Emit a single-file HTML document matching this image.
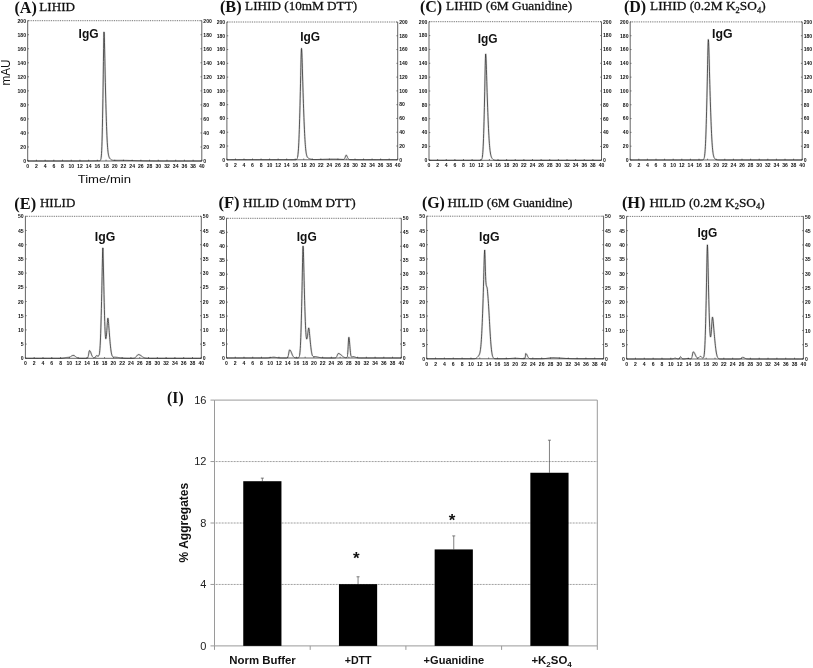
<!DOCTYPE html>
<html lang="en"><head><meta charset="utf-8"><title>Figure</title>
<style>
html,body{margin:0;padding:0;background:#fff;}
body{width:813px;height:668px;overflow:hidden;}
svg{display:block;}
</style></head><body>
<svg width="813" height="668" viewBox="0 0 813 668">
<rect width="813" height="668" fill="#fff"/>
<g>
<path d="M27.7 20.7V161H201.8V20.7" fill="none" stroke="#484848" stroke-width="0.85"/>
<path d="M27.7 20.7H201.8" fill="none" stroke="#666" stroke-width="1" stroke-dasharray="0.9 0.9"/>
<path d="M27.7 161h1.3M201.8 161h-1.3M27.7 146.97h1.3M201.8 146.97h-1.3M27.7 132.94h1.3M201.8 132.94h-1.3M27.7 118.91h1.3M201.8 118.91h-1.3M27.7 104.88h1.3M201.8 104.88h-1.3M27.7 90.85h1.3M201.8 90.85h-1.3M27.7 76.82h1.3M201.8 76.82h-1.3M27.7 62.79h1.3M201.8 62.79h-1.3M27.7 48.76h1.3M201.8 48.76h-1.3M27.7 34.73h1.3M201.8 34.73h-1.3M27.7 20.7h1.3M201.8 20.7h-1.3M27.7 161v-1.3M36.41 161v-1.3M45.11 161v-1.3M53.82 161v-1.3M62.52 161v-1.3M71.23 161v-1.3M79.93 161v-1.3M88.64 161v-1.3M97.34 161v-1.3M106.05 161v-1.3M114.75 161v-1.3M123.46 161v-1.3M132.16 161v-1.3M140.87 161v-1.3M149.57 161v-1.3M158.28 161v-1.3M166.98 161v-1.3M175.69 161v-1.3M184.39 161v-1.3M193.1 161v-1.3M201.8 161v-1.3" stroke="#484848" stroke-width="0.7" fill="none"/>
<g font-family='"Liberation Sans", sans-serif' font-size="5.1" font-weight="bold" fill="#111">
<text x="26" y="162.8" text-anchor="end">0</text>
<text x="203.3" y="162.8">0</text>
<text x="26" y="148.77" text-anchor="end">20</text>
<text x="203.3" y="148.77">20</text>
<text x="26" y="134.74" text-anchor="end">40</text>
<text x="203.3" y="134.74">40</text>
<text x="26" y="120.71" text-anchor="end">60</text>
<text x="203.3" y="120.71">60</text>
<text x="26" y="106.68" text-anchor="end">80</text>
<text x="203.3" y="106.68">80</text>
<text x="26" y="92.65" text-anchor="end">100</text>
<text x="203.3" y="92.65">100</text>
<text x="26" y="78.62" text-anchor="end">120</text>
<text x="203.3" y="78.62">120</text>
<text x="26" y="64.59" text-anchor="end">140</text>
<text x="203.3" y="64.59">140</text>
<text x="26" y="50.56" text-anchor="end">160</text>
<text x="203.3" y="50.56">160</text>
<text x="26" y="36.53" text-anchor="end">180</text>
<text x="203.3" y="36.53">180</text>
<text x="26" y="22.5" text-anchor="end">200</text>
<text x="203.3" y="22.5">200</text>
<text x="27.7" y="167.8" text-anchor="middle">0</text>
<text x="36.41" y="167.8" text-anchor="middle">2</text>
<text x="45.11" y="167.8" text-anchor="middle">4</text>
<text x="53.82" y="167.8" text-anchor="middle">6</text>
<text x="62.52" y="167.8" text-anchor="middle">8</text>
<text x="71.23" y="167.8" text-anchor="middle">10</text>
<text x="79.93" y="167.8" text-anchor="middle">12</text>
<text x="88.64" y="167.8" text-anchor="middle">14</text>
<text x="97.34" y="167.8" text-anchor="middle">16</text>
<text x="106.05" y="167.8" text-anchor="middle">18</text>
<text x="114.75" y="167.8" text-anchor="middle">20</text>
<text x="123.46" y="167.8" text-anchor="middle">22</text>
<text x="132.16" y="167.8" text-anchor="middle">24</text>
<text x="140.87" y="167.8" text-anchor="middle">26</text>
<text x="149.57" y="167.8" text-anchor="middle">28</text>
<text x="158.28" y="167.8" text-anchor="middle">30</text>
<text x="166.98" y="167.8" text-anchor="middle">32</text>
<text x="175.69" y="167.8" text-anchor="middle">34</text>
<text x="184.39" y="167.8" text-anchor="middle">36</text>
<text x="193.1" y="167.8" text-anchor="middle">38</text>
<text x="201.8" y="167.8" text-anchor="middle">40</text>
</g>
<path d="M101 158.69L101.17 157.55L101.34 155.92L101.52 153.63L101.69 150.53L101.87 146.46L102.04 141.29L102.21 134.93L102.39 127.36L102.56 118.68L102.74 109.03L102.91 98.54L103.09 87.21L103.26 74.9L103.43 61.63L103.61 48.38L103.78 37.49L103.96 31.98L104.13 32.52L104.3 36.17L104.48 42.23L104.65 49.87L104.83 58.26L105 66.75L105.17 74.95L105.35 82.71L105.52 90.04L105.7 96.99L105.87 103.59L106.04 109.87L106.22 115.8L106.39 121.34L106.57 126.46L106.74 131.12L106.92 135.3L107.09 139.01L107.26 142.27L107.44 145.08L107.61 147.49L107.79 149.53L107.96 151.23L108.13 152.65L108.31 153.82L108.48 154.78L108.66 155.58L108.83 156.23L109 156.78L109.18 157.23L109.35 157.61L109.53 157.94L109.7 158.22L109.88 158.47L110.05 158.69" fill="none" stroke="#000" stroke-opacity="0.11" stroke-width="2.1" stroke-linejoin="round"/>
<path d="M27.7 161L27.87 161L28.74 161L29.62 161L30.49 161L31.36 161L32.23 161L33.1 161L33.97 161L34.84 161L35.71 161L36.58 161L37.45 161L38.32 161L39.19 161L40.06 161L40.93 161L41.8 161L42.67 161L43.54 161L44.41 161L45.28 161L46.15 161L47.03 161L47.9 161L48.77 161L49.64 161L50.51 161L51.38 161L52.25 161L53.12 161L53.99 161L54.86 161L55.73 161L56.6 161L57.47 161L58.34 161L59.21 161L60.08 161L60.95 161L61.82 161L62.69 161L63.56 161L64.44 161L65.31 161L66.18 161L67.05 161L67.92 161L68.79 161L69.66 161L70.53 161L71.4 161L72.27 161L73.14 161L74.01 161L74.88 161L75.75 161L76.62 161L77.49 161L78.36 160.99L79.23 160.99L80.1 160.99L80.97 160.99L81.85 160.99L82.72 160.99L83.59 160.98L84.46 160.98L85.33 160.98L86.2 160.97L87.07 160.97L87.94 160.96L88.81 160.95L89.68 160.94L90.55 160.94L91.42 160.93L92.29 160.91L93.16 160.9L94.03 160.89L94.9 160.87L95.77 160.86L96.64 160.84L97.51 160.82L98.38 160.8L98.56 160.8L99.43 160.76L99.6 160.75L100.47 160.28L100.65 159.96L100.82 159.46L101 158.69L101.17 157.55L101.34 155.92L101.52 153.63L101.69 150.53L101.87 146.46L102.04 141.29L102.21 134.93L102.39 127.36L102.56 118.68L102.74 109.03L102.91 98.54L103.09 87.21L103.26 74.9L103.43 61.63L103.61 48.38L103.78 37.49L103.96 31.98L104.13 32.52L104.3 36.17L104.48 42.23L104.65 49.87L104.83 58.26L105 66.75L105.17 74.95L105.35 82.71L105.52 90.04L105.7 96.99L105.87 103.59L106.04 109.87L106.22 115.8L106.39 121.34L106.57 126.46L106.74 131.12L106.92 135.3L107.09 139.01L107.26 142.27L107.44 145.08L107.61 147.49L107.79 149.53L107.96 151.23L108.13 152.65L108.31 153.82L108.48 154.78L108.66 155.58L108.83 156.23L109 156.78L109.18 157.23L109.35 157.61L109.53 157.94L109.7 158.22L109.88 158.47L110.05 158.69L110.22 158.89L110.4 159.06L110.57 159.22L110.75 159.36L110.92 159.49L111.09 159.61L111.27 159.71L111.44 159.81L111.62 159.89L111.79 159.96L111.96 160.02L112.14 160.08L112.31 160.13L112.49 160.17L112.66 160.2L112.83 160.23L113.01 160.25L113.18 160.27L114.05 160.32L114.23 160.32L115.1 160.32L115.97 160.32L116.84 160.31L117.71 160.3L118.58 160.3L119.45 160.3L120.32 160.3L121.19 160.31L122.06 160.31L122.93 160.32L123.8 160.33L124.67 160.34L125.54 160.36L126.41 160.37L127.29 160.39L128.16 160.41L129.03 160.43L129.2 160.44L130.07 160.46L130.24 160.46L131.12 160.49L131.29 160.49L132.16 160.51L132.33 160.52L133.2 160.54L133.38 160.55L134.25 160.57L134.42 160.58L135.29 160.6L135.47 160.61L136.34 160.63L136.51 160.63L137.38 160.66L137.56 160.66L138.43 160.69L138.6 160.69L139.47 160.71L139.65 160.72L140.52 160.74L140.69 160.74L141.56 160.76L141.74 160.77L142.61 160.79L143.48 160.8L144.35 160.82L145.22 160.84L146.09 160.85L146.96 160.87L147.83 160.88L148.7 160.89L149.57 160.91L150.44 160.92L151.31 160.92L152.18 160.93L153.05 160.94L153.92 160.95L154.79 160.95L155.66 160.96L156.53 160.97L157.4 160.97L158.27 160.97L159.15 160.98L160.02 160.98L160.89 160.98L161.76 160.99L162.63 160.99L163.5 160.99L164.37 160.99L165.24 160.99L166.11 160.99L166.98 160.99L167.85 161L168.72 161L169.59 161L170.46 161L171.33 161L172.2 161L173.07 161L173.94 161L174.81 161L175.68 161L176.56 161L177.43 161L178.3 161L179.17 161L180.04 161L180.91 161L181.78 161L182.65 161L183.52 161L184.39 161L185.26 161L186.13 161L187 161L187.87 161L188.74 161L189.61 161L190.48 161L191.35 161L192.22 161L193.09 161L193.97 161L194.84 161L195.71 161L196.58 161L197.45 161L198.32 161L199.19 161L200.06 161L200.93 161L201.8 161" fill="none" stroke="#262626" stroke-width="0.75" stroke-linejoin="round"/>
<text x="14.4" y="12.5" font-family='"Liberation Serif", serif' font-size="16" font-weight="bold" fill="#111" textLength="22.4" lengthAdjust="spacingAndGlyphs">(A)</text>
<text x="39.3" y="11" font-family='"Liberation Serif", serif' font-size="13.4" fill="#111" stroke="#111" stroke-width="0.28" textLength="35.7" lengthAdjust="spacingAndGlyphs">LIHID</text>
<text x="78.6" y="38.1" font-family='"Liberation Sans", sans-serif' font-size="13.2" font-weight="bold" fill="#111" textLength="20" lengthAdjust="spacingAndGlyphs">IgG</text>
</g>
<g>
<path d="M226.9 22V159.8H397.7V22" fill="none" stroke="#484848" stroke-width="0.85"/>
<path d="M226.9 22H397.7" fill="none" stroke="#666" stroke-width="1" stroke-dasharray="0.9 0.9"/>
<path d="M226.9 159.8h1.3M397.7 159.8h-1.3M226.9 146.02h1.3M397.7 146.02h-1.3M226.9 132.24h1.3M397.7 132.24h-1.3M226.9 118.46h1.3M397.7 118.46h-1.3M226.9 104.68h1.3M397.7 104.68h-1.3M226.9 90.9h1.3M397.7 90.9h-1.3M226.9 77.12h1.3M397.7 77.12h-1.3M226.9 63.34h1.3M397.7 63.34h-1.3M226.9 49.56h1.3M397.7 49.56h-1.3M226.9 35.78h1.3M397.7 35.78h-1.3M226.9 22h1.3M397.7 22h-1.3M226.9 159.8v-1.3M235.44 159.8v-1.3M243.98 159.8v-1.3M252.52 159.8v-1.3M261.06 159.8v-1.3M269.6 159.8v-1.3M278.14 159.8v-1.3M286.68 159.8v-1.3M295.22 159.8v-1.3M303.76 159.8v-1.3M312.3 159.8v-1.3M320.84 159.8v-1.3M329.38 159.8v-1.3M337.92 159.8v-1.3M346.46 159.8v-1.3M355 159.8v-1.3M363.54 159.8v-1.3M372.08 159.8v-1.3M380.62 159.8v-1.3M389.16 159.8v-1.3M397.7 159.8v-1.3" stroke="#484848" stroke-width="0.7" fill="none"/>
<g font-family='"Liberation Sans", sans-serif' font-size="5.1" font-weight="bold" fill="#111">
<text x="225.2" y="161.6" text-anchor="end">0</text>
<text x="399.2" y="161.6">0</text>
<text x="225.2" y="147.82" text-anchor="end">20</text>
<text x="399.2" y="147.82">20</text>
<text x="225.2" y="134.04" text-anchor="end">40</text>
<text x="399.2" y="134.04">40</text>
<text x="225.2" y="120.26" text-anchor="end">60</text>
<text x="399.2" y="120.26">60</text>
<text x="225.2" y="106.48" text-anchor="end">80</text>
<text x="399.2" y="106.48">80</text>
<text x="225.2" y="92.7" text-anchor="end">100</text>
<text x="399.2" y="92.7">100</text>
<text x="225.2" y="78.92" text-anchor="end">120</text>
<text x="399.2" y="78.92">120</text>
<text x="225.2" y="65.14" text-anchor="end">140</text>
<text x="399.2" y="65.14">140</text>
<text x="225.2" y="51.36" text-anchor="end">160</text>
<text x="399.2" y="51.36">160</text>
<text x="225.2" y="37.58" text-anchor="end">180</text>
<text x="399.2" y="37.58">180</text>
<text x="225.2" y="23.8" text-anchor="end">200</text>
<text x="399.2" y="23.8">200</text>
<text x="226.9" y="166.6" text-anchor="middle">0</text>
<text x="235.44" y="166.6" text-anchor="middle">2</text>
<text x="243.98" y="166.6" text-anchor="middle">4</text>
<text x="252.52" y="166.6" text-anchor="middle">6</text>
<text x="261.06" y="166.6" text-anchor="middle">8</text>
<text x="269.6" y="166.6" text-anchor="middle">10</text>
<text x="278.14" y="166.6" text-anchor="middle">12</text>
<text x="286.68" y="166.6" text-anchor="middle">14</text>
<text x="295.22" y="166.6" text-anchor="middle">16</text>
<text x="303.76" y="166.6" text-anchor="middle">18</text>
<text x="312.3" y="166.6" text-anchor="middle">20</text>
<text x="320.84" y="166.6" text-anchor="middle">22</text>
<text x="329.38" y="166.6" text-anchor="middle">24</text>
<text x="337.92" y="166.6" text-anchor="middle">26</text>
<text x="346.46" y="166.6" text-anchor="middle">28</text>
<text x="355" y="166.6" text-anchor="middle">30</text>
<text x="363.54" y="166.6" text-anchor="middle">32</text>
<text x="372.08" y="166.6" text-anchor="middle">34</text>
<text x="380.62" y="166.6" text-anchor="middle">36</text>
<text x="389.16" y="166.6" text-anchor="middle">38</text>
<text x="397.7" y="166.6" text-anchor="middle">40</text>
</g>
<path d="M297.61 156.92L297.78 155.93L297.95 154.67L298.12 153.1L298.29 151.15L298.47 148.78L298.64 145.95L298.81 142.62L298.98 138.77L299.15 134.39L299.32 129.5L299.49 124.13L299.66 118.33L299.83 112.16L300 105.63L300.17 98.75L300.34 91.45L300.51 83.69L300.69 75.54L300.86 67.28L301.03 59.55L301.2 53.23L301.37 49.3L301.54 48.42L301.71 49.79L301.88 52.87L302.05 57.35L302.22 62.81L302.39 68.81L302.56 75.01L302.74 81.15L302.91 87.08L303.08 92.74L303.25 98.14L303.42 103.31L303.59 108.26L303.76 113L303.93 117.55L304.1 121.87L304.27 125.96L304.44 129.79L304.61 133.33L304.78 136.59L304.96 139.55L305.13 142.22L305.3 144.6L305.47 146.7L305.64 148.54L305.81 150.14L305.98 151.51L306.15 152.69L306.32 153.7L306.49 154.54L306.66 155.25L306.83 155.84L307.01 156.32L307.18 156.72L307.35 157.05L307.52 157.33L307.69 157.55M345.09 157.53L345.26 157.03L345.44 156.51L345.61 156.03L345.78 155.63L345.95 155.35L346.12 155.23L346.29 155.25L346.46 155.37L346.63 155.56L346.8 155.83L346.97 156.15L347.14 156.5L347.31 156.88L347.48 157.26" fill="none" stroke="#000" stroke-opacity="0.11" stroke-width="2.1" stroke-linejoin="round"/>
<path d="M226.9 159.8L227.07 159.8L227.92 159.8L228.78 159.8L229.63 159.8L230.49 159.8L231.34 159.8L232.19 159.8L233.05 159.8L233.9 159.8L234.76 159.8L235.61 159.8L236.46 159.8L237.32 159.8L238.17 159.8L239.03 159.8L239.88 159.8L240.73 159.8L241.59 159.8L242.44 159.8L243.3 159.8L244.15 159.8L245 159.8L245.86 159.8L246.71 159.8L247.57 159.8L248.42 159.8L249.27 159.8L250.13 159.8L250.98 159.8L251.84 159.8L252.69 159.8L253.54 159.8L254.4 159.8L255.25 159.8L256.11 159.8L256.96 159.8L257.81 159.8L258.67 159.8L259.52 159.8L260.38 159.8L261.23 159.8L262.08 159.8L262.94 159.8L263.79 159.8L264.65 159.8L265.5 159.8L266.35 159.8L267.21 159.8L268.06 159.8L268.92 159.8L269.77 159.8L270.62 159.8L271.48 159.8L272.33 159.8L273.19 159.8L274.04 159.8L274.89 159.8L275.75 159.8L276.6 159.8L277.46 159.8L278.31 159.8L279.16 159.8L280.02 159.8L280.87 159.8L281.73 159.8L282.58 159.8L283.43 159.8L284.29 159.8L285.14 159.8L286 159.8L286.85 159.8L287.7 159.8L288.56 159.8L289.41 159.8L290.27 159.8L291.12 159.8L291.97 159.8L292.83 159.8L293.68 159.79L294.54 159.79L295.39 159.77L296.24 159.62L296.42 159.54L296.59 159.42L296.76 159.25L296.93 159.02L297.1 158.7L297.27 158.26L297.44 157.68L297.61 156.92L297.78 155.93L297.95 154.67L298.12 153.1L298.29 151.15L298.47 148.78L298.64 145.95L298.81 142.62L298.98 138.77L299.15 134.39L299.32 129.5L299.49 124.13L299.66 118.33L299.83 112.16L300 105.63L300.17 98.75L300.34 91.45L300.51 83.69L300.69 75.54L300.86 67.28L301.03 59.55L301.2 53.23L301.37 49.3L301.54 48.42L301.71 49.79L301.88 52.87L302.05 57.35L302.22 62.81L302.39 68.81L302.56 75.01L302.74 81.15L302.91 87.08L303.08 92.74L303.25 98.14L303.42 103.31L303.59 108.26L303.76 113L303.93 117.55L304.1 121.87L304.27 125.96L304.44 129.79L304.61 133.33L304.78 136.59L304.96 139.55L305.13 142.22L305.3 144.6L305.47 146.7L305.64 148.54L305.81 150.14L305.98 151.51L306.15 152.69L306.32 153.7L306.49 154.54L306.66 155.25L306.83 155.84L307.01 156.32L307.18 156.72L307.35 157.05L307.52 157.33L307.69 157.55L307.86 157.74L308.03 157.9L308.2 158.03L308.37 158.15L308.54 158.25L308.71 158.34L308.88 158.43L309.05 158.5L309.23 158.58L309.4 158.64L309.57 158.71L309.74 158.77L309.91 158.83L310.08 158.89L310.25 158.94L310.42 158.99L310.59 159.04L310.76 159.09L310.93 159.13L311.1 159.17L311.28 159.21L311.45 159.25L311.62 159.28L311.79 159.32L311.96 159.34L312.13 159.37L312.3 159.4L312.47 159.42L312.64 159.44L313.5 159.5L313.67 159.51L314.52 159.53L314.69 159.54L315.55 159.53L316.4 159.52L317.25 159.49L317.42 159.49L318.28 159.46L318.45 159.46L319.3 159.43L319.47 159.43L320.33 159.4L320.5 159.39L321.35 159.37L321.52 159.36L322.38 159.33L322.55 159.33L323.4 159.3L323.57 159.29L324.43 159.27L324.6 159.26L325.45 159.24L325.62 159.23L326.48 159.21L326.65 159.21L327.5 159.19L327.67 159.18L328.53 159.16L329.38 159.15L330.23 159.14L331.09 159.12L331.94 159.12L332.8 159.11L333.65 159.11L334.5 159.11L335.36 159.12L336.21 159.14L337.07 159.16L337.24 159.17L338.09 159.2L338.26 159.2L339.12 159.24L339.29 159.25L340.14 159.28L340.31 159.29L341.17 159.33L341.34 159.34L342.19 159.38L342.36 159.39L343.21 159.42L343.39 159.42L344.24 159.14L344.41 158.96L344.58 158.71L344.75 158.39L344.92 157.99L345.09 157.53L345.26 157.03L345.44 156.51L345.61 156.03L345.78 155.63L345.95 155.35L346.12 155.23L346.29 155.25L346.46 155.37L346.63 155.56L346.8 155.83L346.97 156.15L347.14 156.5L347.31 156.88L347.48 157.26L347.66 157.63L347.83 157.98L348 158.3L348.17 158.58L348.34 158.82L348.51 159.02L348.68 159.18L348.85 159.31L349.02 159.42L349.19 159.49L349.36 159.55L349.53 159.6L349.71 159.63L349.88 159.65L350.05 159.67L350.9 159.71L351.07 159.71L351.93 159.73L352.78 159.74L353.63 159.76L354.49 159.76L355.34 159.77L356.2 159.78L357.05 159.78L357.9 159.79L358.76 159.79L359.61 159.79L360.47 159.8L361.32 159.8L362.17 159.8L363.03 159.8L363.88 159.8L364.74 159.8L365.59 159.8L366.44 159.8L367.3 159.8L368.15 159.8L369.01 159.8L369.86 159.8L370.71 159.8L371.57 159.8L372.42 159.8L373.28 159.8L374.13 159.8L374.98 159.8L375.84 159.8L376.69 159.8L377.55 159.8L378.4 159.8L379.25 159.8L380.11 159.8L380.96 159.8L381.82 159.8L382.67 159.8L383.52 159.8L384.38 159.8L385.23 159.8L386.09 159.8L386.94 159.8L387.79 159.8L388.65 159.8L389.5 159.8L390.36 159.8L391.21 159.8L392.06 159.8L392.92 159.8L393.77 159.8L394.63 159.8L395.48 159.8L396.33 159.8L397.19 159.8" fill="none" stroke="#262626" stroke-width="0.75" stroke-linejoin="round"/>
<text x="219.9" y="11.9" font-family='"Liberation Serif", serif' font-size="16" font-weight="bold" fill="#111" textLength="21.7" lengthAdjust="spacingAndGlyphs">(B)</text>
<text x="245.1" y="10.4" font-family='"Liberation Serif", serif' font-size="13.4" fill="#111" stroke="#111" stroke-width="0.28" textLength="112" lengthAdjust="spacingAndGlyphs">LIHID (10mM DTT)</text>
<text x="300.2" y="40.7" font-family='"Liberation Sans", sans-serif' font-size="13.2" font-weight="bold" fill="#111" textLength="19.9" lengthAdjust="spacingAndGlyphs">IgG</text>
</g>
<g>
<path d="M429 21.7V160.3H601.5V21.7" fill="none" stroke="#484848" stroke-width="0.85"/>
<path d="M429 21.7H601.5" fill="none" stroke="#666" stroke-width="1" stroke-dasharray="0.9 0.9"/>
<path d="M429 160.3h1.3M601.5 160.3h-1.3M429 146.44h1.3M601.5 146.44h-1.3M429 132.58h1.3M601.5 132.58h-1.3M429 118.72h1.3M601.5 118.72h-1.3M429 104.86h1.3M601.5 104.86h-1.3M429 91h1.3M601.5 91h-1.3M429 77.14h1.3M601.5 77.14h-1.3M429 63.28h1.3M601.5 63.28h-1.3M429 49.42h1.3M601.5 49.42h-1.3M429 35.56h1.3M601.5 35.56h-1.3M429 21.7h1.3M601.5 21.7h-1.3M429 160.3v-1.3M437.62 160.3v-1.3M446.25 160.3v-1.3M454.88 160.3v-1.3M463.5 160.3v-1.3M472.12 160.3v-1.3M480.75 160.3v-1.3M489.38 160.3v-1.3M498 160.3v-1.3M506.62 160.3v-1.3M515.25 160.3v-1.3M523.88 160.3v-1.3M532.5 160.3v-1.3M541.12 160.3v-1.3M549.75 160.3v-1.3M558.38 160.3v-1.3M567 160.3v-1.3M575.62 160.3v-1.3M584.25 160.3v-1.3M592.88 160.3v-1.3M601.5 160.3v-1.3" stroke="#484848" stroke-width="0.7" fill="none"/>
<g font-family='"Liberation Sans", sans-serif' font-size="5.1" font-weight="bold" fill="#111">
<text x="427.3" y="162.1" text-anchor="end">0</text>
<text x="603" y="162.1">0</text>
<text x="427.3" y="148.24" text-anchor="end">20</text>
<text x="603" y="148.24">20</text>
<text x="427.3" y="134.38" text-anchor="end">40</text>
<text x="603" y="134.38">40</text>
<text x="427.3" y="120.52" text-anchor="end">60</text>
<text x="603" y="120.52">60</text>
<text x="427.3" y="106.66" text-anchor="end">80</text>
<text x="603" y="106.66">80</text>
<text x="427.3" y="92.8" text-anchor="end">100</text>
<text x="603" y="92.8">100</text>
<text x="427.3" y="78.94" text-anchor="end">120</text>
<text x="603" y="78.94">120</text>
<text x="427.3" y="65.08" text-anchor="end">140</text>
<text x="603" y="65.08">140</text>
<text x="427.3" y="51.22" text-anchor="end">160</text>
<text x="603" y="51.22">160</text>
<text x="427.3" y="37.36" text-anchor="end">180</text>
<text x="603" y="37.36">180</text>
<text x="427.3" y="23.5" text-anchor="end">200</text>
<text x="603" y="23.5">200</text>
<text x="429" y="167.1" text-anchor="middle">0</text>
<text x="437.62" y="167.1" text-anchor="middle">2</text>
<text x="446.25" y="167.1" text-anchor="middle">4</text>
<text x="454.88" y="167.1" text-anchor="middle">6</text>
<text x="463.5" y="167.1" text-anchor="middle">8</text>
<text x="472.12" y="167.1" text-anchor="middle">10</text>
<text x="480.75" y="167.1" text-anchor="middle">12</text>
<text x="489.38" y="167.1" text-anchor="middle">14</text>
<text x="498" y="167.1" text-anchor="middle">16</text>
<text x="506.62" y="167.1" text-anchor="middle">18</text>
<text x="515.25" y="167.1" text-anchor="middle">20</text>
<text x="523.88" y="167.1" text-anchor="middle">22</text>
<text x="532.5" y="167.1" text-anchor="middle">24</text>
<text x="541.12" y="167.1" text-anchor="middle">26</text>
<text x="549.75" y="167.1" text-anchor="middle">28</text>
<text x="558.38" y="167.1" text-anchor="middle">30</text>
<text x="567" y="167.1" text-anchor="middle">32</text>
<text x="575.62" y="167.1" text-anchor="middle">34</text>
<text x="584.25" y="167.1" text-anchor="middle">36</text>
<text x="592.88" y="167.1" text-anchor="middle">38</text>
<text x="601.5" y="167.1" text-anchor="middle">40</text>
</g>
<path d="M482.3 157.24L482.47 156.04L482.65 154.46L482.82 152.44L482.99 149.9L483.16 146.77L483.34 143.02L483.51 138.61L483.68 133.53L483.85 127.84L484.03 121.58L484.2 114.84L484.37 107.65L484.54 100L484.72 91.81L484.89 83.06L485.06 73.98L485.23 65.32L485.41 58.29L485.58 54.3L485.75 53.97L485.92 55.76L486.1 59.2L486.27 63.89L486.44 69.4L486.61 75.31L486.79 81.29L486.96 87.12L487.13 92.69L487.3 97.98L487.48 103L487.65 107.79L487.82 112.37L487.99 116.75L488.17 120.92L488.34 124.88L488.51 128.6L488.68 132.07L488.86 135.28L489.03 138.23L489.2 140.92L489.37 143.35L489.55 145.53L489.72 147.46L489.89 149.16L490.06 150.64L490.24 151.92L490.41 153.04L490.58 154L490.75 154.83L490.93 155.54L491.1 156.15L491.27 156.68L491.44 157.14L491.62 157.54L491.79 157.89" fill="none" stroke="#000" stroke-opacity="0.11" stroke-width="2.1" stroke-linejoin="round"/>
<path d="M429 160.3L429.17 160.3L430.04 160.3L430.9 160.3L431.76 160.3L432.62 160.3L433.49 160.3L434.35 160.3L435.21 160.3L436.07 160.3L436.94 160.3L437.8 160.3L438.66 160.3L439.52 160.3L440.38 160.3L441.25 160.3L442.11 160.3L442.97 160.3L443.83 160.3L444.7 160.3L445.56 160.3L446.42 160.3L447.29 160.3L448.15 160.3L449.01 160.3L449.87 160.3L450.74 160.3L451.6 160.3L452.46 160.3L453.32 160.3L454.19 160.3L455.05 160.3L455.91 160.3L456.77 160.3L457.63 160.3L458.5 160.3L459.36 160.3L460.22 160.3L461.09 160.3L461.95 160.3L462.81 160.3L463.67 160.3L464.54 160.3L465.4 160.3L466.26 160.3L467.12 160.3L467.99 160.3L468.85 160.3L469.71 160.3L470.57 160.3L471.44 160.3L472.3 160.3L473.16 160.3L474.02 160.3L474.88 160.3L475.75 160.3L476.61 160.3L477.47 160.3L478.33 160.3L479.2 160.3L480.06 160.29L480.92 160.19L481.09 160.12L481.27 160.01L481.44 159.85L481.61 159.62L481.78 159.28L481.96 158.81L482.13 158.15L482.3 157.24L482.47 156.04L482.65 154.46L482.82 152.44L482.99 149.9L483.16 146.77L483.34 143.02L483.51 138.61L483.68 133.53L483.85 127.84L484.03 121.58L484.2 114.84L484.37 107.65L484.54 100L484.72 91.81L484.89 83.06L485.06 73.98L485.23 65.32L485.41 58.29L485.58 54.3L485.75 53.97L485.92 55.76L486.1 59.2L486.27 63.89L486.44 69.4L486.61 75.31L486.79 81.29L486.96 87.12L487.13 92.69L487.3 97.98L487.48 103L487.65 107.79L487.82 112.37L487.99 116.75L488.17 120.92L488.34 124.88L488.51 128.6L488.68 132.07L488.86 135.28L489.03 138.23L489.2 140.92L489.37 143.35L489.55 145.53L489.72 147.46L489.89 149.16L490.06 150.64L490.24 151.92L490.41 153.04L490.58 154L490.75 154.83L490.93 155.54L491.1 156.15L491.27 156.68L491.44 157.14L491.62 157.54L491.79 157.89L491.96 158.19L492.13 158.46L492.31 158.69L492.48 158.9L492.65 159.09L492.82 159.25L493 159.39L493.17 159.52L493.34 159.63L493.51 159.73L493.69 159.82L493.86 159.89L494.03 159.96L494.2 160.01L494.38 160.06L494.55 160.1L494.72 160.14L494.89 160.17L495.07 160.19L495.24 160.21L495.41 160.23L496.27 160.28L496.45 160.28L497.31 160.3L498.17 160.3L499.03 160.3L499.9 160.3L500.76 160.3L501.62 160.3L502.48 160.3L503.35 160.3L504.21 160.3L505.07 160.3L505.93 160.3L506.8 160.3L507.66 160.3L508.52 160.3L509.38 160.3L510.25 160.3L511.11 160.3L511.97 160.3L512.83 160.3L513.7 160.3L514.56 160.3L515.42 160.3L516.28 160.3L517.15 160.3L518.01 160.3L518.87 160.3L519.73 160.3L520.6 160.3L521.46 160.3L522.32 160.3L523.18 160.3L524.05 160.3L524.91 160.3L525.77 160.3L526.63 160.3L527.5 160.3L528.36 160.3L529.22 160.3L530.08 160.3L530.95 160.3L531.81 160.3L532.67 160.3L533.53 160.3L534.4 160.3L535.26 160.3L536.12 160.3L536.98 160.3L537.85 160.3L538.71 160.3L539.57 160.3L540.43 160.3L541.3 160.3L542.16 160.3L543.02 160.3L543.88 160.3L544.75 160.3L545.61 160.3L546.47 160.3L547.33 160.3L548.2 160.3L549.06 160.3L549.92 160.3L550.78 160.3L551.65 160.3L552.51 160.3L553.37 160.3L554.23 160.3L555.1 160.3L555.96 160.3L556.82 160.3L557.68 160.3L558.55 160.3L559.41 160.3L560.27 160.3L561.13 160.3L562 160.3L562.86 160.3L563.72 160.3L564.58 160.3L565.45 160.3L566.31 160.3L567.17 160.3L568.03 160.3L568.9 160.3L569.76 160.3L570.62 160.3L571.48 160.3L572.35 160.3L573.21 160.3L574.07 160.3L574.93 160.3L575.8 160.3L576.66 160.3L577.52 160.3L578.38 160.3L579.25 160.3L580.11 160.3L580.97 160.3L581.83 160.3L582.7 160.3L583.56 160.3L584.42 160.3L585.28 160.3L586.15 160.3L587.01 160.3L587.87 160.3L588.73 160.3L589.6 160.3L590.46 160.3L591.32 160.3L592.18 160.3L593.05 160.3L593.91 160.3L594.77 160.3L595.63 160.3L596.5 160.3L597.36 160.3L598.22 160.3L599.08 160.3L599.95 160.3L600.81 160.3" fill="none" stroke="#262626" stroke-width="0.75" stroke-linejoin="round"/>
<text x="419.9" y="11.9" font-family='"Liberation Serif", serif' font-size="16" font-weight="bold" fill="#111" textLength="22.3" lengthAdjust="spacingAndGlyphs">(C)</text>
<text x="446.1" y="10.4" font-family='"Liberation Serif", serif' font-size="13.4" fill="#111" stroke="#111" stroke-width="0.28" textLength="126" lengthAdjust="spacingAndGlyphs">LIHID (6M Guanidine)</text>
<text x="477.7" y="42.7" font-family='"Liberation Sans", sans-serif' font-size="13.2" font-weight="bold" fill="#111" textLength="19.9" lengthAdjust="spacingAndGlyphs">IgG</text>
</g>
<g>
<path d="M630.2 21.9V160H802.2V21.9" fill="none" stroke="#484848" stroke-width="0.85"/>
<path d="M630.2 21.9H802.2" fill="none" stroke="#666" stroke-width="1" stroke-dasharray="0.9 0.9"/>
<path d="M630.2 160h1.3M802.2 160h-1.3M630.2 146.19h1.3M802.2 146.19h-1.3M630.2 132.38h1.3M802.2 132.38h-1.3M630.2 118.57h1.3M802.2 118.57h-1.3M630.2 104.76h1.3M802.2 104.76h-1.3M630.2 90.95h1.3M802.2 90.95h-1.3M630.2 77.14h1.3M802.2 77.14h-1.3M630.2 63.33h1.3M802.2 63.33h-1.3M630.2 49.52h1.3M802.2 49.52h-1.3M630.2 35.71h1.3M802.2 35.71h-1.3M630.2 21.9h1.3M802.2 21.9h-1.3M630.2 160v-1.3M638.8 160v-1.3M647.4 160v-1.3M656 160v-1.3M664.6 160v-1.3M673.2 160v-1.3M681.8 160v-1.3M690.4 160v-1.3M699 160v-1.3M707.6 160v-1.3M716.2 160v-1.3M724.8 160v-1.3M733.4 160v-1.3M742 160v-1.3M750.6 160v-1.3M759.2 160v-1.3M767.8 160v-1.3M776.4 160v-1.3M785 160v-1.3M793.6 160v-1.3M802.2 160v-1.3" stroke="#484848" stroke-width="0.7" fill="none"/>
<g font-family='"Liberation Sans", sans-serif' font-size="5.1" font-weight="bold" fill="#111">
<text x="628.5" y="161.8" text-anchor="end">0</text>
<text x="803.7" y="161.8">0</text>
<text x="628.5" y="147.99" text-anchor="end">20</text>
<text x="803.7" y="147.99">20</text>
<text x="628.5" y="134.18" text-anchor="end">40</text>
<text x="803.7" y="134.18">40</text>
<text x="628.5" y="120.37" text-anchor="end">60</text>
<text x="803.7" y="120.37">60</text>
<text x="628.5" y="106.56" text-anchor="end">80</text>
<text x="803.7" y="106.56">80</text>
<text x="628.5" y="92.75" text-anchor="end">100</text>
<text x="803.7" y="92.75">100</text>
<text x="628.5" y="78.94" text-anchor="end">120</text>
<text x="803.7" y="78.94">120</text>
<text x="628.5" y="65.13" text-anchor="end">140</text>
<text x="803.7" y="65.13">140</text>
<text x="628.5" y="51.32" text-anchor="end">160</text>
<text x="803.7" y="51.32">160</text>
<text x="628.5" y="37.51" text-anchor="end">180</text>
<text x="803.7" y="37.51">180</text>
<text x="628.5" y="23.7" text-anchor="end">200</text>
<text x="803.7" y="23.7">200</text>
<text x="630.2" y="166.8" text-anchor="middle">0</text>
<text x="638.8" y="166.8" text-anchor="middle">2</text>
<text x="647.4" y="166.8" text-anchor="middle">4</text>
<text x="656" y="166.8" text-anchor="middle">6</text>
<text x="664.6" y="166.8" text-anchor="middle">8</text>
<text x="673.2" y="166.8" text-anchor="middle">10</text>
<text x="681.8" y="166.8" text-anchor="middle">12</text>
<text x="690.4" y="166.8" text-anchor="middle">14</text>
<text x="699" y="166.8" text-anchor="middle">16</text>
<text x="707.6" y="166.8" text-anchor="middle">18</text>
<text x="716.2" y="166.8" text-anchor="middle">20</text>
<text x="724.8" y="166.8" text-anchor="middle">22</text>
<text x="733.4" y="166.8" text-anchor="middle">24</text>
<text x="742" y="166.8" text-anchor="middle">26</text>
<text x="750.6" y="166.8" text-anchor="middle">28</text>
<text x="759.2" y="166.8" text-anchor="middle">30</text>
<text x="767.8" y="166.8" text-anchor="middle">32</text>
<text x="776.4" y="166.8" text-anchor="middle">34</text>
<text x="785" y="166.8" text-anchor="middle">36</text>
<text x="793.6" y="166.8" text-anchor="middle">38</text>
<text x="802.2" y="166.8" text-anchor="middle">40</text>
</g>
<path d="M704.33 157.33L704.5 156.39L704.68 155.19L704.85 153.66L705.02 151.76L705.19 149.43L705.36 146.62L705.54 143.29L705.71 139.4L705.88 134.95L706.05 129.93L706.22 124.37L706.4 118.33L706.57 111.84L706.74 104.97L706.91 97.71L707.08 90.05L707.26 81.91L707.43 73.28L707.6 64.34L707.77 55.59L707.94 47.86L708.12 42.21L708.29 39.57L708.46 40.02L708.63 42.48L708.8 46.65L708.98 52.1L709.15 58.38L709.32 65.05L709.49 71.77L709.66 78.33L709.84 84.63L710.01 90.63L710.18 96.36L710.35 101.84L710.52 107.1L710.7 112.15L710.87 116.96L711.04 121.52L711.21 125.82L711.38 129.82L711.56 133.52L711.73 136.9L711.9 139.96L712.07 142.71L712.24 145.15L712.42 147.31L712.59 149.19L712.76 150.83L712.93 152.24L713.1 153.45L713.28 154.47L713.45 155.33L713.62 156.06L713.79 156.67L713.96 157.17L714.14 157.59" fill="none" stroke="#000" stroke-opacity="0.11" stroke-width="2.1" stroke-linejoin="round"/>
<path d="M630.2 160L630.37 160L631.23 160L632.09 160L632.95 160L633.81 160L634.67 160L635.53 160L636.39 160L637.25 160L638.11 160L638.97 160L639.83 160L640.69 160L641.55 160L642.41 160L643.27 160L644.13 160L644.99 160L645.85 160L646.71 160L647.57 160L648.43 160L649.29 160L650.15 160L651.01 160L651.87 160L652.73 160L653.59 160L654.45 160L655.31 160L656.17 160L657.03 160L657.89 160L658.75 160L659.61 160L660.47 160L661.33 160L662.19 160L663.05 160L663.91 160L664.77 160L665.63 160L666.49 160L667.35 160L668.21 160L669.07 160L669.93 160L670.79 160L671.65 160L672.51 160L673.37 160L674.23 160L675.09 160L675.95 160L676.81 160L677.67 160L678.53 160L679.39 160L680.25 160L681.11 160L681.97 160L682.83 160L683.69 160L684.55 160L685.41 160L686.27 160L687.13 160L687.99 160L688.85 160L689.71 160L690.57 160L691.43 160L692.29 160L693.15 160L694.01 160L694.87 160L695.73 160L696.59 160L697.45 160L698.31 160L699.17 160L700.03 160L700.89 160L701.75 159.99L702.61 159.94L702.78 159.9L702.96 159.85L703.13 159.78L703.3 159.67L703.47 159.52L703.64 159.3L703.82 159L703.99 158.6L704.16 158.05L704.33 157.33L704.5 156.39L704.68 155.19L704.85 153.66L705.02 151.76L705.19 149.43L705.36 146.62L705.54 143.29L705.71 139.4L705.88 134.95L706.05 129.93L706.22 124.37L706.4 118.33L706.57 111.84L706.74 104.97L706.91 97.71L707.08 90.05L707.26 81.91L707.43 73.28L707.6 64.34L707.77 55.59L707.94 47.86L708.12 42.21L708.29 39.57L708.46 40.02L708.63 42.48L708.8 46.65L708.98 52.1L709.15 58.38L709.32 65.05L709.49 71.77L709.66 78.33L709.84 84.63L710.01 90.63L710.18 96.36L710.35 101.84L710.52 107.1L710.7 112.15L710.87 116.96L711.04 121.52L711.21 125.82L711.38 129.82L711.56 133.52L711.73 136.9L711.9 139.96L712.07 142.71L712.24 145.15L712.42 147.31L712.59 149.19L712.76 150.83L712.93 152.24L713.1 153.45L713.28 154.47L713.45 155.33L713.62 156.06L713.79 156.67L713.96 157.17L714.14 157.59L714.31 157.95L714.48 158.24L714.65 158.49L714.82 158.7L715 158.87L715.17 159.02L715.34 159.15L715.51 159.26L715.68 159.36L715.86 159.44L716.03 159.52L716.2 159.58L716.37 159.64L716.54 159.69L716.72 159.73L716.89 159.77L717.06 159.81L717.23 159.84L717.4 159.86L717.58 159.89L717.75 159.91L718.61 159.97L718.78 159.97L719.64 159.99L720.5 160L721.36 160L722.22 160L723.08 160L723.94 160L724.8 160L725.66 160L726.52 160L727.38 160L728.24 160L729.1 160L729.96 160L730.82 160L731.68 160L732.54 160L733.4 160L734.26 160L735.12 160L735.98 160L736.84 160L737.7 160L738.56 160L739.42 160L740.28 160L741.14 160L742 160L742.86 160L743.72 160L744.58 160L745.44 160L746.3 160L747.16 160L748.02 160L748.88 160L749.74 160L750.6 160L751.46 160L752.32 160L753.18 160L754.04 160L754.9 160L755.76 160L756.62 160L757.48 160L758.34 160L759.2 160L760.06 160L760.92 160L761.78 160L762.64 160L763.5 160L764.36 160L765.22 160L766.08 160L766.94 160L767.8 160L768.66 160L769.52 160L770.38 160L771.24 160L772.1 160L772.96 160L773.82 160L774.68 160L775.54 160L776.4 160L777.26 160L778.12 160L778.98 160L779.84 160L780.7 160L781.56 160L782.42 160L783.28 160L784.14 160L785 160L785.86 160L786.72 160L787.58 160L788.44 160L789.3 160L790.16 160L791.02 160L791.88 160L792.74 160L793.6 160L794.46 160L795.32 160L796.18 160L797.04 160L797.9 160L798.76 160L799.62 160L800.48 160L801.34 160L802.2 160" fill="none" stroke="#262626" stroke-width="0.75" stroke-linejoin="round"/>
<text x="623.9" y="11.9" font-family='"Liberation Serif", serif' font-size="16" font-weight="bold" fill="#111" textLength="22.2" lengthAdjust="spacingAndGlyphs">(D)</text>
<text x="650" y="10.4" font-family='"Liberation Serif", serif' font-size="13.4" fill="#111" stroke="#111" stroke-width="0.28" textLength="115.6" lengthAdjust="spacingAndGlyphs">LIHID (0.2M K<tspan font-size="8.5" dy="2.6">2</tspan><tspan dy="-2.6">SO</tspan><tspan font-size="8.5" dy="2.6">4</tspan><tspan dy="-2.6">)</tspan></text>
<text x="712" y="37.8" font-family='"Liberation Sans", sans-serif' font-size="13.2" font-weight="bold" fill="#111" textLength="20.5" lengthAdjust="spacingAndGlyphs">IgG</text>
</g>
<g>
<path d="M25.4 216.3V358.3H201.3V216.3" fill="none" stroke="#484848" stroke-width="0.85"/>
<path d="M25.4 216.3H201.3" fill="none" stroke="#666" stroke-width="1" stroke-dasharray="0.9 0.9"/>
<path d="M25.4 358.3h1.3M201.3 358.3h-1.3M25.4 344.1h1.3M201.3 344.1h-1.3M25.4 329.9h1.3M201.3 329.9h-1.3M25.4 315.7h1.3M201.3 315.7h-1.3M25.4 301.5h1.3M201.3 301.5h-1.3M25.4 287.3h1.3M201.3 287.3h-1.3M25.4 273.1h1.3M201.3 273.1h-1.3M25.4 258.9h1.3M201.3 258.9h-1.3M25.4 244.7h1.3M201.3 244.7h-1.3M25.4 230.5h1.3M201.3 230.5h-1.3M25.4 216.3h1.3M201.3 216.3h-1.3M25.4 358.3v-1.3M34.2 358.3v-1.3M42.99 358.3v-1.3M51.78 358.3v-1.3M60.58 358.3v-1.3M69.38 358.3v-1.3M78.17 358.3v-1.3M86.97 358.3v-1.3M95.76 358.3v-1.3M104.56 358.3v-1.3M113.35 358.3v-1.3M122.15 358.3v-1.3M130.94 358.3v-1.3M139.73 358.3v-1.3M148.53 358.3v-1.3M157.33 358.3v-1.3M166.12 358.3v-1.3M174.91 358.3v-1.3M183.71 358.3v-1.3M192.5 358.3v-1.3M201.3 358.3v-1.3" stroke="#484848" stroke-width="0.7" fill="none"/>
<g font-family='"Liberation Sans", sans-serif' font-size="5.1" font-weight="bold" fill="#111">
<text x="23.7" y="360.4" text-anchor="end">0</text>
<text x="202.8" y="360.4">0</text>
<text x="23.7" y="346.2" text-anchor="end">5</text>
<text x="202.8" y="346.2">5</text>
<text x="23.7" y="332" text-anchor="end">10</text>
<text x="202.8" y="332">10</text>
<text x="23.7" y="317.8" text-anchor="end">15</text>
<text x="202.8" y="317.8">15</text>
<text x="23.7" y="303.6" text-anchor="end">20</text>
<text x="202.8" y="303.6">20</text>
<text x="23.7" y="289.4" text-anchor="end">25</text>
<text x="202.8" y="289.4">25</text>
<text x="23.7" y="275.2" text-anchor="end">30</text>
<text x="202.8" y="275.2">30</text>
<text x="23.7" y="261" text-anchor="end">35</text>
<text x="202.8" y="261">35</text>
<text x="23.7" y="246.8" text-anchor="end">40</text>
<text x="202.8" y="246.8">40</text>
<text x="23.7" y="232.6" text-anchor="end">45</text>
<text x="202.8" y="232.6">45</text>
<text x="23.7" y="218.4" text-anchor="end">50</text>
<text x="202.8" y="218.4">50</text>
<text x="25.4" y="365.1" text-anchor="middle">0</text>
<text x="34.2" y="365.1" text-anchor="middle">2</text>
<text x="42.99" y="365.1" text-anchor="middle">4</text>
<text x="51.78" y="365.1" text-anchor="middle">6</text>
<text x="60.58" y="365.1" text-anchor="middle">8</text>
<text x="69.38" y="365.1" text-anchor="middle">10</text>
<text x="78.17" y="365.1" text-anchor="middle">12</text>
<text x="86.97" y="365.1" text-anchor="middle">14</text>
<text x="95.76" y="365.1" text-anchor="middle">16</text>
<text x="104.56" y="365.1" text-anchor="middle">18</text>
<text x="113.35" y="365.1" text-anchor="middle">20</text>
<text x="122.15" y="365.1" text-anchor="middle">22</text>
<text x="130.94" y="365.1" text-anchor="middle">24</text>
<text x="139.73" y="365.1" text-anchor="middle">26</text>
<text x="148.53" y="365.1" text-anchor="middle">28</text>
<text x="157.33" y="365.1" text-anchor="middle">30</text>
<text x="166.12" y="365.1" text-anchor="middle">32</text>
<text x="174.91" y="365.1" text-anchor="middle">34</text>
<text x="183.71" y="365.1" text-anchor="middle">36</text>
<text x="192.5" y="365.1" text-anchor="middle">38</text>
<text x="201.3" y="365.1" text-anchor="middle">40</text>
</g>
<path d="M71.49 356.08L71.66 355.97L71.84 355.87L72.01 355.77L72.19 355.68L72.37 355.6L72.54 355.53L72.72 355.48L72.89 355.43L73.07 355.41L73.24 355.4L74.12 355.61L74.3 355.7L74.48 355.8L74.65 355.91L74.83 356.03M88.37 355.6L88.55 354.67L88.72 353.65L88.9 352.63L89.08 351.73L89.25 351.05L89.43 350.68L89.6 350.64L89.78 350.73L89.96 350.89L90.13 351.14L90.31 351.45L90.48 351.82L90.66 352.23L90.83 352.68L91.01 353.16L91.19 353.65L91.36 354.14L91.54 354.61L91.71 355.07L91.89 355.5L92.07 355.9M95.94 356.08L96.11 355.94L96.29 355.83L96.46 355.76L96.64 355.74L96.82 355.75L97.69 356.09M99.28 354.57L99.45 353.57L99.63 352.22L99.81 350.46L99.98 348.2L100.16 345.4L100.33 342L100.51 337.95L100.69 333.26L100.86 327.93L101.04 322.01L101.21 315.58L101.39 308.69L101.56 301.36L101.74 293.57L101.92 285.24L102.09 276.38L102.27 267.28L102.44 258.71L102.62 251.85L102.8 247.98L102.97 247.99L103.85 286.4L104.03 294.67L104.2 302.3L104.38 309.34L104.55 315.79L104.73 321.59L104.91 326.63L105.08 330.83L105.26 334.13L105.43 336.52L105.61 338.02L105.79 338.69L105.96 338.61L106.14 337.89L106.31 336.63L106.49 334.93L106.67 332.86L106.84 330.5L107.02 327.9L107.19 325.18L107.37 322.54L107.55 320.26L107.72 318.71L107.9 318.17L108.07 318.58L108.25 319.67L108.42 321.34L108.6 323.41L108.78 325.7L108.95 328.08L109.13 330.45L109.3 332.78L109.48 335.04L109.66 337.24L109.83 339.35L110.01 341.39L110.18 343.33L110.36 345.15L110.54 346.86L110.71 348.42L110.89 349.83L111.06 351.09L111.24 352.2L111.42 353.17L111.59 353.99L111.77 354.68L111.94 355.25L112.12 355.72L112.29 356.09M136.74 355.95L136.92 355.73L137.1 355.51L137.27 355.31L137.45 355.13L137.62 354.96L137.8 354.83L137.98 354.72L138.15 354.65L138.33 354.61L138.5 354.61L139.38 354.79L139.56 354.85L139.73 354.93L139.91 355.02L140.09 355.11L140.26 355.22L140.44 355.32L140.61 355.44L140.79 355.56L140.97 355.68L141.14 355.81L141.32 355.93L141.49 356.06" fill="none" stroke="#000" stroke-opacity="0.11" stroke-width="2.1" stroke-linejoin="round"/>
<path d="M25.4 358.3L25.58 358.3L26.46 358.3L27.33 358.3L28.21 358.3L29.09 358.3L29.97 358.3L30.85 358.3L31.73 358.3L32.61 358.3L33.49 358.3L34.37 358.3L35.25 358.3L36.13 358.3L37.01 358.3L37.89 358.3L38.77 358.3L39.65 358.3L40.53 358.3L41.41 358.3L42.29 358.3L43.17 358.3L44.05 358.3L44.92 358.3L45.8 358.3L46.68 358.3L47.56 358.3L48.44 358.3L49.32 358.3L50.2 358.3L51.08 358.3L51.96 358.3L52.84 358.3L53.72 358.3L54.6 358.3L55.48 358.3L56.36 358.3L57.24 358.3L58.12 358.3L59 358.29L59.88 358.28L60.76 358.26L60.93 358.25L61.81 358.19L61.99 358.18L62.87 358.08L63.04 358.05L63.22 358.02L63.39 357.99L63.57 357.96L63.75 357.93L63.92 357.9L64.1 357.87L64.27 357.83L64.45 357.8L64.63 357.76L64.8 357.73L64.98 357.7L65.15 357.66L65.33 357.63L65.51 357.6L65.68 357.57L65.86 357.54L66.03 357.51L66.21 357.49L66.38 357.47L66.56 357.45L66.74 357.43L67.62 357.36L67.79 357.35L68.67 357.27L68.85 357.25L69.02 357.22L69.2 357.18L69.37 357.14L69.55 357.08L69.73 357.03L69.9 356.96L70.08 356.88L70.25 356.8L70.43 356.71L70.61 356.62L70.78 356.52L70.96 356.41L71.13 356.3L71.31 356.19L71.49 356.08L71.66 355.97L71.84 355.87L72.01 355.77L72.19 355.68L72.37 355.6L72.54 355.53L72.72 355.48L72.89 355.43L73.07 355.41L73.24 355.4L74.12 355.61L74.3 355.7L74.48 355.8L74.65 355.91L74.83 356.03L75 356.16L75.18 356.3L75.36 356.43L75.53 356.57L75.71 356.71L75.88 356.85L76.06 356.98L76.24 357.11L76.41 357.23L76.59 357.35L76.76 357.46L76.94 357.56L77.11 357.65L77.29 357.74L77.47 357.81L77.64 357.88L77.82 357.95L77.99 358L78.17 358.05L78.35 358.09L78.52 358.12L78.7 358.16L78.87 358.18L79.05 358.2L79.23 358.22L80.1 358.28L80.28 358.28L81.16 358.29L82.04 358.3L82.92 358.3L83.8 358.3L84.68 358.3L85.56 358.3L86.44 358.3L87.32 358.14L87.49 358.01L87.67 357.8L87.84 357.47L88.02 357.01L88.2 356.39L88.37 355.6L88.55 354.67L88.72 353.65L88.9 352.63L89.08 351.73L89.25 351.05L89.43 350.68L89.6 350.64L89.78 350.73L89.96 350.89L90.13 351.14L90.31 351.45L90.48 351.82L90.66 352.23L90.83 352.68L91.01 353.16L91.19 353.65L91.36 354.14L91.54 354.61L91.71 355.07L91.89 355.5L92.07 355.9L92.24 356.26L92.42 356.59L92.59 356.87L92.77 357.11L92.95 357.32L93.12 357.48L93.3 357.6L93.47 357.69L93.65 357.74L93.83 357.76L94.7 357.37L94.88 357.2L95.06 357.02L95.23 356.83L95.41 356.63L95.58 356.43L95.76 356.25L95.94 356.08L96.11 355.94L96.29 355.83L96.46 355.76L96.64 355.74L96.82 355.75L97.69 356.09L97.87 356.18L98.05 356.26L98.22 356.3L98.4 356.3L99.28 354.57L99.45 353.57L99.63 352.22L99.81 350.46L99.98 348.2L100.16 345.4L100.33 342L100.51 337.95L100.69 333.26L100.86 327.93L101.04 322.01L101.21 315.58L101.39 308.69L101.56 301.36L101.74 293.57L101.92 285.24L102.09 276.38L102.27 267.28L102.44 258.71L102.62 251.85L102.8 247.98L102.97 247.99L103.85 286.4L104.03 294.67L104.2 302.3L104.38 309.34L104.55 315.79L104.73 321.59L104.91 326.63L105.08 330.83L105.26 334.13L105.43 336.52L105.61 338.02L105.79 338.69L105.96 338.61L106.14 337.89L106.31 336.63L106.49 334.93L106.67 332.86L106.84 330.5L107.02 327.9L107.19 325.18L107.37 322.54L107.55 320.26L107.72 318.71L107.9 318.17L108.07 318.58L108.25 319.67L108.42 321.34L108.6 323.41L108.78 325.7L108.95 328.08L109.13 330.45L109.3 332.78L109.48 335.04L109.66 337.24L109.83 339.35L110.01 341.39L110.18 343.33L110.36 345.15L110.54 346.86L110.71 348.42L110.89 349.83L111.06 351.09L111.24 352.2L111.42 353.17L111.59 353.99L111.77 354.68L111.94 355.25L112.12 355.72L112.29 356.09L112.47 356.39L112.65 356.61L112.82 356.78L113 356.91L113.17 356.99L113.35 357.05L113.53 357.09L113.7 357.11L113.88 357.12L114.76 357.15L114.93 357.15L115.81 357.2L115.99 357.21L116.87 357.3L117.04 357.32L117.22 357.34L117.4 357.36L117.57 357.39L117.75 357.41L117.92 357.44L118.1 357.46L118.28 357.49L118.45 357.52L118.63 357.54L118.8 357.57L118.98 357.6L119.15 357.62L119.33 357.65L119.51 357.68L119.68 357.71L119.86 357.73L120.03 357.76L120.21 357.79L120.39 357.81L120.56 357.84L120.74 357.86L120.91 357.89L121.09 357.91L121.27 357.93L121.44 357.95L121.62 357.97L121.79 357.99L121.97 358.01L122.85 358.1L123.02 358.11L123.9 358.17L124.08 358.18L124.96 358.23L125.14 358.23L126.01 358.26L126.19 358.26L127.07 358.28L127.95 358.29L128.83 358.29L129.71 358.3L130.59 358.3L131.47 358.3L132.35 358.29L133.23 358.25L133.4 358.24L134.28 358.07L134.46 358.01L134.63 357.93L134.81 357.85L134.99 357.75L135.16 357.63L135.34 357.5L135.51 357.35L135.69 357.19L135.87 357.01L136.04 356.82L136.22 356.61L136.39 356.39L136.57 356.17L136.74 355.95L136.92 355.73L137.1 355.51L137.27 355.31L137.45 355.13L137.62 354.96L137.8 354.83L137.98 354.72L138.15 354.65L138.33 354.61L138.5 354.61L139.38 354.79L139.56 354.85L139.73 354.93L139.91 355.02L140.09 355.11L140.26 355.22L140.44 355.32L140.61 355.44L140.79 355.56L140.97 355.68L141.14 355.81L141.32 355.93L141.49 356.06L141.67 356.19L141.85 356.32L142.02 356.44L142.2 356.56L142.37 356.68L142.55 356.8L142.73 356.91L142.9 357.02L143.08 357.13L143.25 357.23L143.43 357.32L143.6 357.41L143.78 357.49L143.96 357.57L144.13 357.64L144.31 357.71L144.48 357.77L144.66 357.83L144.84 357.88L145.01 357.93L145.19 357.97L145.36 358.01L145.54 358.05L145.72 358.08L145.89 358.11L146.07 358.13L146.24 358.15L146.42 358.17L147.3 358.24L147.47 358.25L148.35 358.28L148.53 358.28L149.41 358.29L150.29 358.3L151.17 358.3L152.05 358.3L152.93 358.3L153.81 358.3L154.69 358.3L155.57 358.3L156.45 358.3L157.32 358.3L158.2 358.3L159.08 358.3L159.96 358.3L160.84 358.3L161.72 358.3L162.6 358.3L163.48 358.3L164.36 358.3L165.24 358.3L166.12 358.3L167 358.3L167.88 358.3L168.76 358.3L169.64 358.3L170.52 358.3L171.4 358.3L172.28 358.3L173.16 358.3L174.04 358.3L174.91 358.3L175.79 358.3L176.67 358.3L177.55 358.3L178.43 358.3L179.31 358.3L180.19 358.3L181.07 358.3L181.95 358.3L182.83 358.3L183.71 358.3L184.59 358.3L185.47 358.3L186.35 358.3L187.23 358.3L188.11 358.3L188.99 358.3L189.87 358.3L190.75 358.3L191.63 358.3L192.5 358.3L193.38 358.3L194.26 358.3L195.14 358.3L196.02 358.3L196.9 358.3L197.78 358.3L198.66 358.3L199.54 358.3L200.42 358.3L201.3 358.3" fill="none" stroke="#262626" stroke-width="0.75" stroke-linejoin="round"/>
<text x="14.3" y="208.6" font-family='"Liberation Serif", serif' font-size="16" font-weight="bold" fill="#111" textLength="21.8" lengthAdjust="spacingAndGlyphs">(E)</text>
<text x="40" y="207.1" font-family='"Liberation Serif", serif' font-size="13.4" fill="#111" stroke="#111" stroke-width="0.28" textLength="35.3" lengthAdjust="spacingAndGlyphs">HILID</text>
<text x="94.8" y="240.7" font-family='"Liberation Sans", sans-serif' font-size="13.2" font-weight="bold" fill="#111" textLength="20.5" lengthAdjust="spacingAndGlyphs">IgG</text>
</g>
<g>
<path d="M226.5 218.3V358H401.3V218.3" fill="none" stroke="#484848" stroke-width="0.85"/>
<path d="M226.5 218.3H401.3" fill="none" stroke="#666" stroke-width="1" stroke-dasharray="0.9 0.9"/>
<path d="M226.5 358h1.3M401.3 358h-1.3M226.5 344.03h1.3M401.3 344.03h-1.3M226.5 330.06h1.3M401.3 330.06h-1.3M226.5 316.09h1.3M401.3 316.09h-1.3M226.5 302.12h1.3M401.3 302.12h-1.3M226.5 288.15h1.3M401.3 288.15h-1.3M226.5 274.18h1.3M401.3 274.18h-1.3M226.5 260.21h1.3M401.3 260.21h-1.3M226.5 246.24h1.3M401.3 246.24h-1.3M226.5 232.27h1.3M401.3 232.27h-1.3M226.5 218.3h1.3M401.3 218.3h-1.3M226.5 358v-1.3M235.24 358v-1.3M243.98 358v-1.3M252.72 358v-1.3M261.46 358v-1.3M270.2 358v-1.3M278.94 358v-1.3M287.68 358v-1.3M296.42 358v-1.3M305.16 358v-1.3M313.9 358v-1.3M322.64 358v-1.3M331.38 358v-1.3M340.12 358v-1.3M348.86 358v-1.3M357.6 358v-1.3M366.34 358v-1.3M375.08 358v-1.3M383.82 358v-1.3M392.56 358v-1.3M401.3 358v-1.3" stroke="#484848" stroke-width="0.7" fill="none"/>
<g font-family='"Liberation Sans", sans-serif' font-size="5.1" font-weight="bold" fill="#111">
<text x="224.8" y="360.1" text-anchor="end">0</text>
<text x="402.8" y="360.1">0</text>
<text x="224.8" y="346.13" text-anchor="end">5</text>
<text x="402.8" y="346.13">5</text>
<text x="224.8" y="332.16" text-anchor="end">10</text>
<text x="402.8" y="332.16">10</text>
<text x="224.8" y="318.19" text-anchor="end">15</text>
<text x="402.8" y="318.19">15</text>
<text x="224.8" y="304.22" text-anchor="end">20</text>
<text x="402.8" y="304.22">20</text>
<text x="224.8" y="290.25" text-anchor="end">25</text>
<text x="402.8" y="290.25">25</text>
<text x="224.8" y="276.28" text-anchor="end">30</text>
<text x="402.8" y="276.28">30</text>
<text x="224.8" y="262.31" text-anchor="end">35</text>
<text x="402.8" y="262.31">35</text>
<text x="224.8" y="248.34" text-anchor="end">40</text>
<text x="402.8" y="248.34">40</text>
<text x="224.8" y="234.37" text-anchor="end">45</text>
<text x="402.8" y="234.37">45</text>
<text x="224.8" y="220.4" text-anchor="end">50</text>
<text x="402.8" y="220.4">50</text>
<text x="226.5" y="364.8" text-anchor="middle">0</text>
<text x="235.24" y="364.8" text-anchor="middle">2</text>
<text x="243.98" y="364.8" text-anchor="middle">4</text>
<text x="252.72" y="364.8" text-anchor="middle">6</text>
<text x="261.46" y="364.8" text-anchor="middle">8</text>
<text x="270.2" y="364.8" text-anchor="middle">10</text>
<text x="278.94" y="364.8" text-anchor="middle">12</text>
<text x="287.68" y="364.8" text-anchor="middle">14</text>
<text x="296.42" y="364.8" text-anchor="middle">16</text>
<text x="305.16" y="364.8" text-anchor="middle">18</text>
<text x="313.9" y="364.8" text-anchor="middle">20</text>
<text x="322.64" y="364.8" text-anchor="middle">22</text>
<text x="331.38" y="364.8" text-anchor="middle">24</text>
<text x="340.12" y="364.8" text-anchor="middle">26</text>
<text x="348.86" y="364.8" text-anchor="middle">28</text>
<text x="357.6" y="364.8" text-anchor="middle">30</text>
<text x="366.34" y="364.8" text-anchor="middle">32</text>
<text x="375.08" y="364.8" text-anchor="middle">34</text>
<text x="383.82" y="364.8" text-anchor="middle">36</text>
<text x="392.56" y="364.8" text-anchor="middle">38</text>
<text x="401.3" y="364.8" text-anchor="middle">40</text>
</g>
<path d="M288.38 355.17L288.55 354.29L288.73 353.33L288.9 352.35L289.08 351.44L289.25 350.68L289.43 350.15L289.6 349.91L289.78 349.92L290.65 350.89L290.83 351.23L291 351.61L291.18 352.01L291.35 352.43L291.53 352.87L291.7 353.3L291.88 353.74L292.05 354.16L292.22 354.57L292.4 354.96L292.57 355.33L292.75 355.67M299.57 355.3L299.74 354.2L299.92 352.75L300.09 350.87L300.27 348.48L300.44 345.51L300.62 341.9L300.79 337.62L300.96 332.63L301.14 326.97L301.31 320.68L301.49 313.85L301.66 306.53L301.84 298.75L302.01 290.44L302.19 281.54L302.36 272.12L302.54 262.68L302.71 254.27L302.89 248.34L303.06 246.17L303.24 247.58L303.41 251.64L303.59 257.7L303.76 264.94L303.94 272.62L304.11 280.19L304.29 287.38L304.46 294.12L304.64 300.43L304.81 306.34L304.99 311.86L305.16 316.98L305.33 321.63L305.51 325.78L305.68 329.37L305.86 332.38L306.03 334.79L306.21 336.63L306.38 337.9L306.56 338.67L306.73 338.97L306.91 338.86L307.08 338.4L307.26 337.63L307.43 336.59L307.61 335.33L307.78 333.9L307.96 332.37L308.13 330.85L308.31 329.49L308.48 328.48L308.66 327.96L308.83 328.03L309.01 328.74L309.18 329.98L309.36 331.62L309.53 333.48L309.7 335.43L309.88 337.37L310.05 339.26L310.23 341.09L310.4 342.86L310.58 344.55L310.75 346.17L310.93 347.69L311.1 349.1L311.28 350.39L311.45 351.55L311.63 352.56L311.8 353.44L311.98 354.19L312.15 354.81L312.33 355.31L312.5 355.7M337.15 355.61L337.32 355.18L337.5 354.75L337.67 354.36L337.85 354.02L338.02 353.75L338.2 353.59L338.37 353.53L338.55 353.54L339.42 353.78L339.6 353.87L339.77 353.97L339.95 354.08L340.12 354.2L340.29 354.33L340.47 354.47L340.64 354.61L340.82 354.75L340.99 354.9L341.17 355.06L341.34 355.21L341.52 355.37L341.69 355.52L341.87 355.67M347.64 354.33L347.81 352.21L347.99 349.47L348.16 346.27L348.34 342.96L348.51 340.04L348.69 338.03L348.86 337.31L349.03 337.64L349.21 338.63L349.38 340.16L349.56 342.1L349.73 344.28L349.91 346.54L350.08 348.72L350.26 350.71L350.43 352.43L350.61 353.85L350.78 354.96L350.96 355.77" fill="none" stroke="#000" stroke-opacity="0.11" stroke-width="2.1" stroke-linejoin="round"/>
<path d="M226.5 358L226.67 358L227.55 358L228.42 358L229.3 358L230.17 358L231.04 358L231.92 358L232.79 358L233.67 358L234.54 358L235.41 358L236.29 358L237.16 358L238.04 358L238.91 358L239.78 358L240.66 358L241.53 358L242.41 358L243.28 358L244.15 358L245.03 358L245.9 358L246.78 358L247.65 358L248.52 358L249.4 358L250.27 358L251.15 358L252.02 358L252.89 358L253.77 358L254.64 358L255.52 358L256.39 358L257.26 358L258.14 358L259.01 358L259.89 358L260.76 358L261.63 358L262.51 358L263.38 358L264.26 358L265.13 358L266 357.99L266.88 357.97L267.75 357.94L267.93 357.93L268.8 357.85L268.98 357.83L269.85 357.71L270.03 357.69L270.2 357.66L270.37 357.62L270.55 357.59L270.72 357.56L270.9 357.53L271.07 357.49L271.25 357.46L271.42 357.42L271.6 357.39L271.77 357.36L271.95 357.33L272.12 357.3L272.3 357.27L272.47 357.25L272.65 357.23L272.82 357.21L273.7 357.16L273.87 357.16L274.74 357.23L274.92 357.25L275.09 357.27L275.27 357.3L275.44 357.33L275.62 357.36L275.79 357.39L275.97 357.42L276.14 357.46L276.32 357.49L276.49 357.53L276.67 357.56L276.84 357.59L277.02 357.62L277.19 357.66L277.37 357.69L277.54 357.71L277.72 357.74L277.89 357.77L278.07 357.79L278.24 357.81L278.42 357.83L278.59 357.85L279.46 357.93L279.64 357.94L280.51 357.97L280.69 357.98L281.56 357.99L282.44 358L283.31 358L284.18 358L285.06 358L285.93 358L286.81 357.96L286.98 357.92L287.16 357.86L287.33 357.76L287.51 357.6L287.68 357.36L287.85 357.01L288.03 356.54L288.2 355.92L288.38 355.17L288.55 354.29L288.73 353.33L288.9 352.35L289.08 351.44L289.25 350.68L289.43 350.15L289.6 349.91L289.78 349.92L290.65 350.89L290.83 351.23L291 351.61L291.18 352.01L291.35 352.43L291.53 352.87L291.7 353.3L291.88 353.74L292.05 354.16L292.22 354.57L292.4 354.96L292.57 355.33L292.75 355.67L292.92 355.98L293.1 356.26L293.27 356.52L293.45 356.75L293.62 356.95L293.8 357.13L293.97 357.28L294.15 357.41L294.32 357.52L294.5 357.61L294.67 357.69L294.85 357.75L295.02 357.81L295.2 357.85L295.37 357.88L295.55 357.91L295.72 357.93L295.9 357.95L296.77 357.99L296.94 357.99L297.82 357.96L297.99 357.94L298.17 357.91L298.34 357.85L298.52 357.76L298.69 357.62L298.87 357.42L299.04 357.13L299.22 356.7L299.39 356.11L299.57 355.3L299.74 354.2L299.92 352.75L300.09 350.87L300.27 348.48L300.44 345.51L300.62 341.9L300.79 337.62L300.96 332.63L301.14 326.97L301.31 320.68L301.49 313.85L301.66 306.53L301.84 298.75L302.01 290.44L302.19 281.54L302.36 272.12L302.54 262.68L302.71 254.27L302.89 248.34L303.06 246.17L303.24 247.58L303.41 251.64L303.59 257.7L303.76 264.94L303.94 272.62L304.11 280.19L304.29 287.38L304.46 294.12L304.64 300.43L304.81 306.34L304.99 311.86L305.16 316.98L305.33 321.63L305.51 325.78L305.68 329.37L305.86 332.38L306.03 334.79L306.21 336.63L306.38 337.9L306.56 338.67L306.73 338.97L306.91 338.86L307.08 338.4L307.26 337.63L307.43 336.59L307.61 335.33L307.78 333.9L307.96 332.37L308.13 330.85L308.31 329.49L308.48 328.48L308.66 327.96L308.83 328.03L309.01 328.74L309.18 329.98L309.36 331.62L309.53 333.48L309.7 335.43L309.88 337.37L310.05 339.26L310.23 341.09L310.4 342.86L310.58 344.55L310.75 346.17L310.93 347.69L311.1 349.1L311.28 350.39L311.45 351.55L311.63 352.56L311.8 353.44L311.98 354.19L312.15 354.81L312.33 355.31L312.5 355.7L312.68 356.01L312.85 356.24L313.03 356.4L313.2 356.5L313.38 356.57L313.55 356.6L313.73 356.61L314.6 356.57L314.77 356.58L315.65 356.64L315.82 356.66L316.7 356.8L316.87 356.83L317.05 356.87L317.22 356.91L317.4 356.95L317.57 356.99L317.75 357.03L317.92 357.07L318.1 357.11L318.27 357.15L318.44 357.2L318.62 357.24L318.79 357.28L318.97 357.32L319.14 357.36L319.32 357.4L319.49 357.44L319.67 357.48L319.84 357.51L320.02 357.55L320.19 357.58L320.37 357.61L320.54 357.64L320.72 357.67L320.89 357.7L321.07 357.72L321.24 357.75L321.42 357.77L321.59 357.79L321.77 357.81L322.64 357.89L322.81 357.9L323.69 357.95L323.86 357.95L324.74 357.98L324.91 357.98L325.79 357.99L326.66 358L327.53 358L328.41 358L329.28 358L330.16 358L331.03 358L331.9 358L332.78 358L333.65 358L334.53 357.99L335.4 357.89L335.58 357.83L335.75 357.75L335.92 357.64L336.1 357.49L336.27 357.29L336.45 357.05L336.62 356.76L336.8 356.41L336.97 356.03L337.15 355.61L337.32 355.18L337.5 354.75L337.67 354.36L337.85 354.02L338.02 353.75L338.2 353.59L338.37 353.53L338.55 353.54L339.42 353.78L339.6 353.87L339.77 353.97L339.95 354.08L340.12 354.2L340.29 354.33L340.47 354.47L340.64 354.61L340.82 354.75L340.99 354.9L341.17 355.06L341.34 355.21L341.52 355.37L341.69 355.52L341.87 355.67L342.04 355.82L342.22 355.97L342.39 356.12L342.57 356.25L342.74 356.39L342.92 356.52L343.09 356.64L343.27 356.76L343.44 356.87L343.62 356.97L343.79 357.07L343.97 357.16L344.14 357.24L344.32 357.32L344.49 357.39L344.66 357.46L344.84 357.52L345.01 357.58L345.19 357.63L345.36 357.67L345.54 357.71L345.71 357.75L345.89 357.78L346.06 357.81L346.24 357.83L346.41 357.84L347.29 356.78L347.46 355.82L347.64 354.33L347.81 352.21L347.99 349.47L348.16 346.27L348.34 342.96L348.51 340.04L348.69 338.03L348.86 337.31L349.03 337.64L349.21 338.63L349.38 340.16L349.56 342.1L349.73 344.28L349.91 346.54L350.08 348.72L350.26 350.71L350.43 352.43L350.61 353.85L350.78 354.96L350.96 355.77L351.13 356.35L351.31 356.71L351.48 356.92L351.66 357.02L351.83 357.03L352.71 356.7L352.88 356.65L353.06 356.61L353.23 356.6L354.1 356.71L354.28 356.76L354.45 356.81L354.63 356.86L354.8 356.92L354.98 356.99L355.15 357.05L355.33 357.12L355.5 357.19L355.68 357.25L355.85 357.32L356.03 357.38L356.2 357.45L356.38 357.5L356.55 357.56L356.73 357.61L356.9 357.66L357.08 357.7L357.25 357.74L357.43 357.78L357.6 357.81L357.77 357.84L357.95 357.86L358.12 357.89L358.3 357.91L359.17 357.97L359.35 357.97L360.22 357.99L361.1 358L361.97 358L362.84 358L363.72 358L364.59 358L365.47 358L366.34 358L367.21 358L368.09 358L368.96 358L369.84 358L370.71 358L371.58 358L372.46 358L373.33 358L374.21 358L375.08 358L375.95 358L376.83 358L377.7 358L378.58 358L379.45 358L380.32 358L381.2 358L382.07 358L382.95 358L383.82 358L384.69 358L385.57 358L386.44 358L387.32 358L388.19 358L389.06 358L389.94 358L390.81 358L391.69 358L392.56 358L393.43 358L394.31 358L395.18 358L396.06 358L396.93 358L397.8 358L398.68 358L399.55 358L400.43 358L401.3 358" fill="none" stroke="#262626" stroke-width="0.75" stroke-linejoin="round"/>
<text x="218.5" y="208.3" font-family='"Liberation Serif", serif' font-size="16" font-weight="bold" fill="#111" textLength="21.1" lengthAdjust="spacingAndGlyphs">(F)</text>
<text x="243.1" y="206.8" font-family='"Liberation Serif", serif' font-size="13.4" fill="#111" stroke="#111" stroke-width="0.28" textLength="112.6" lengthAdjust="spacingAndGlyphs">HILID (10mM DTT)</text>
<text x="296.8" y="241.2" font-family='"Liberation Sans", sans-serif' font-size="13.2" font-weight="bold" fill="#111" textLength="19.9" lengthAdjust="spacingAndGlyphs">IgG</text>
</g>
<g>
<path d="M426.7 216.2V358.8H603.6V216.2" fill="none" stroke="#484848" stroke-width="0.85"/>
<path d="M426.7 216.2H603.6" fill="none" stroke="#666" stroke-width="1" stroke-dasharray="0.9 0.9"/>
<path d="M426.7 358.8h1.3M603.6 358.8h-1.3M426.7 344.54h1.3M603.6 344.54h-1.3M426.7 330.28h1.3M603.6 330.28h-1.3M426.7 316.02h1.3M603.6 316.02h-1.3M426.7 301.76h1.3M603.6 301.76h-1.3M426.7 287.5h1.3M603.6 287.5h-1.3M426.7 273.24h1.3M603.6 273.24h-1.3M426.7 258.98h1.3M603.6 258.98h-1.3M426.7 244.72h1.3M603.6 244.72h-1.3M426.7 230.46h1.3M603.6 230.46h-1.3M426.7 216.2h1.3M603.6 216.2h-1.3M426.7 358.8v-1.3M435.55 358.8v-1.3M444.39 358.8v-1.3M453.24 358.8v-1.3M462.08 358.8v-1.3M470.93 358.8v-1.3M479.77 358.8v-1.3M488.62 358.8v-1.3M497.46 358.8v-1.3M506.31 358.8v-1.3M515.15 358.8v-1.3M524 358.8v-1.3M532.84 358.8v-1.3M541.69 358.8v-1.3M550.53 358.8v-1.3M559.38 358.8v-1.3M568.22 358.8v-1.3M577.07 358.8v-1.3M585.91 358.8v-1.3M594.75 358.8v-1.3M603.6 358.8v-1.3" stroke="#484848" stroke-width="0.7" fill="none"/>
<g font-family='"Liberation Sans", sans-serif' font-size="5.1" font-weight="bold" fill="#111">
<text x="425" y="360.9" text-anchor="end">0</text>
<text x="605.1" y="360.9">0</text>
<text x="425" y="346.64" text-anchor="end">5</text>
<text x="605.1" y="346.64">5</text>
<text x="425" y="332.38" text-anchor="end">10</text>
<text x="605.1" y="332.38">10</text>
<text x="425" y="318.12" text-anchor="end">15</text>
<text x="605.1" y="318.12">15</text>
<text x="425" y="303.86" text-anchor="end">20</text>
<text x="605.1" y="303.86">20</text>
<text x="425" y="289.6" text-anchor="end">25</text>
<text x="605.1" y="289.6">25</text>
<text x="425" y="275.34" text-anchor="end">30</text>
<text x="605.1" y="275.34">30</text>
<text x="425" y="261.08" text-anchor="end">35</text>
<text x="605.1" y="261.08">35</text>
<text x="425" y="246.82" text-anchor="end">40</text>
<text x="605.1" y="246.82">40</text>
<text x="425" y="232.56" text-anchor="end">45</text>
<text x="605.1" y="232.56">45</text>
<text x="425" y="218.3" text-anchor="end">50</text>
<text x="605.1" y="218.3">50</text>
<text x="426.7" y="365.6" text-anchor="middle">0</text>
<text x="435.55" y="365.6" text-anchor="middle">2</text>
<text x="444.39" y="365.6" text-anchor="middle">4</text>
<text x="453.24" y="365.6" text-anchor="middle">6</text>
<text x="462.08" y="365.6" text-anchor="middle">8</text>
<text x="470.93" y="365.6" text-anchor="middle">10</text>
<text x="479.77" y="365.6" text-anchor="middle">12</text>
<text x="488.62" y="365.6" text-anchor="middle">14</text>
<text x="497.46" y="365.6" text-anchor="middle">16</text>
<text x="506.31" y="365.6" text-anchor="middle">18</text>
<text x="515.15" y="365.6" text-anchor="middle">20</text>
<text x="524" y="365.6" text-anchor="middle">22</text>
<text x="532.84" y="365.6" text-anchor="middle">24</text>
<text x="541.69" y="365.6" text-anchor="middle">26</text>
<text x="550.53" y="365.6" text-anchor="middle">28</text>
<text x="559.38" y="365.6" text-anchor="middle">30</text>
<text x="568.22" y="365.6" text-anchor="middle">32</text>
<text x="577.07" y="365.6" text-anchor="middle">34</text>
<text x="585.91" y="365.6" text-anchor="middle">36</text>
<text x="594.75" y="365.6" text-anchor="middle">38</text>
<text x="603.6" y="365.6" text-anchor="middle">40</text>
</g>
<path d="M478 356.49L478.18 356.27L478.35 356.05L478.53 355.81L478.71 355.57L478.89 355.3L479.06 355L479.24 354.67L479.42 354.27L479.59 353.8L479.77 353.23L479.95 352.54L480.12 351.7L480.3 350.69L480.48 349.48L480.65 348.05L480.83 346.37L481.01 344.43L481.19 342.2L481.36 339.66L481.54 336.83L481.72 333.68L481.89 330.24L482.07 326.51L482.25 322.52L482.42 318.27L482.6 313.79L482.78 309.03L482.95 303.97L483.13 298.53L483.31 292.64L483.48 286.27L483.66 279.47L483.84 272.44L484.02 265.56L484.19 259.36L484.37 254.38L484.55 251.11L484.72 250.09L484.9 252.78L485.08 258.3L485.25 264.96L485.43 271.26L485.61 276.39L485.78 280.15L485.96 282.74L486.14 284.45L486.32 285.52L486.49 286.18L486.67 286.59L486.85 286.95L487.02 287.45L487.2 288.3L487.38 289.68L487.55 291.69L487.73 293.89L487.91 296.12L488.08 298.44L488.26 300.88L488.44 303.46L488.61 306.2L488.79 309.08L488.97 312.09L489.15 315.2L489.32 318.37L489.5 321.58L489.68 324.78L489.85 327.92L490.03 330.98L490.21 333.93L490.38 336.72L490.56 339.35L490.74 341.8L490.91 344.04L491.09 346.09L491.27 347.94L491.45 349.58L491.62 351.04L491.8 352.32L491.98 353.42L492.15 354.37L492.33 355.18L492.51 355.87L492.68 356.44M525.41 355.65L525.59 354.23L525.76 353.63L525.94 353.67L526.12 353.77L526.29 353.94L526.47 354.15L526.65 354.42L526.83 354.72L527 355.06L527.18 355.41L527.36 355.76L527.53 356.12L527.71 356.46" fill="none" stroke="#000" stroke-opacity="0.11" stroke-width="2.1" stroke-linejoin="round"/>
<path d="M426.7 358.8L426.88 358.8L427.76 358.8L428.65 358.8L429.53 358.8L430.41 358.8L431.3 358.8L432.18 358.8L433.07 358.8L433.95 358.8L434.84 358.8L435.72 358.8L436.61 358.8L437.49 358.8L438.38 358.8L439.26 358.8L440.14 358.8L441.03 358.8L441.91 358.8L442.8 358.8L443.68 358.8L444.57 358.8L445.45 358.8L446.34 358.8L447.22 358.8L448.1 358.8L448.99 358.8L449.87 358.8L450.76 358.8L451.64 358.8L452.53 358.8L453.41 358.8L454.3 358.8L455.18 358.8L456.07 358.8L456.95 358.8L457.83 358.8L458.72 358.8L459.6 358.8L460.49 358.8L461.37 358.8L462.26 358.8L463.14 358.8L464.03 358.8L464.91 358.8L465.79 358.8L466.68 358.8L467.56 358.8L468.45 358.8L469.33 358.8L470.22 358.8L471.1 358.8L471.99 358.8L472.87 358.8L473.76 358.78L474.64 358.71L474.82 358.69L474.99 358.66L475.17 358.62L475.35 358.57L475.52 358.52L475.7 358.45L475.88 358.37L476.06 358.28L476.23 358.18L476.41 358.06L476.59 357.93L476.76 357.79L476.94 357.64L477.12 357.47L477.29 357.29L477.47 357.1L477.65 356.9L477.82 356.7L478 356.49L478.18 356.27L478.35 356.05L478.53 355.81L478.71 355.57L478.89 355.3L479.06 355L479.24 354.67L479.42 354.27L479.59 353.8L479.77 353.23L479.95 352.54L480.12 351.7L480.3 350.69L480.48 349.48L480.65 348.05L480.83 346.37L481.01 344.43L481.19 342.2L481.36 339.66L481.54 336.83L481.72 333.68L481.89 330.24L482.07 326.51L482.25 322.52L482.42 318.27L482.6 313.79L482.78 309.03L482.95 303.97L483.13 298.53L483.31 292.64L483.48 286.27L483.66 279.47L483.84 272.44L484.02 265.56L484.19 259.36L484.37 254.38L484.55 251.11L484.72 250.09L484.9 252.78L485.08 258.3L485.25 264.96L485.43 271.26L485.61 276.39L485.78 280.15L485.96 282.74L486.14 284.45L486.32 285.52L486.49 286.18L486.67 286.59L486.85 286.95L487.02 287.45L487.2 288.3L487.38 289.68L487.55 291.69L487.73 293.89L487.91 296.12L488.08 298.44L488.26 300.88L488.44 303.46L488.61 306.2L488.79 309.08L488.97 312.09L489.15 315.2L489.32 318.37L489.5 321.58L489.68 324.78L489.85 327.92L490.03 330.98L490.21 333.93L490.38 336.72L490.56 339.35L490.74 341.8L490.91 344.04L491.09 346.09L491.27 347.94L491.45 349.58L491.62 351.04L491.8 352.32L491.98 353.42L492.15 354.37L492.33 355.18L492.51 355.87L492.68 356.44L492.86 356.92L493.04 357.31L493.21 357.63L493.39 357.88L493.57 358.09L493.75 358.25L493.92 358.38L494.1 358.48L494.28 358.56L494.45 358.62L494.63 358.67L494.81 358.7L494.98 358.73L495.16 358.75L496.04 358.79L496.22 358.79L497.11 358.8L497.99 358.8L498.88 358.8L499.76 358.8L500.64 358.8L501.53 358.8L502.41 358.79L503.3 358.78L504.18 358.77L505.07 358.76L505.95 358.73L506.13 358.73L507.01 358.7L507.19 358.69L508.07 358.64L508.25 358.63L509.14 358.57L509.31 358.56L510.2 358.5L510.37 358.48L511.26 358.41L511.44 358.4L512.32 358.34L512.5 358.32L513.38 358.27L513.56 358.27L514.44 358.24L514.62 358.23L515.5 358.23L516.39 358.25L516.57 358.26L517.45 358.3L517.63 358.31L518.51 358.37L518.69 358.39L519.57 358.45L519.75 358.47L520.63 358.54L520.81 358.55L521.7 358.61L521.87 358.62L522.76 358.67L522.93 358.68L523.82 358.72L523.99 358.72L524.88 358.52L525.06 358.06L525.23 357.09L525.41 355.65L525.59 354.23L525.76 353.63L525.94 353.67L526.12 353.77L526.29 353.94L526.47 354.15L526.65 354.42L526.83 354.72L527 355.06L527.18 355.41L527.36 355.76L527.53 356.12L527.71 356.46L527.89 356.79L528.06 357.09L528.24 357.37L528.42 357.61L528.59 357.83L528.77 358.02L528.95 358.18L529.13 358.31L529.3 358.42L529.48 358.51L529.66 358.58L529.83 358.64L530.01 358.68L530.19 358.71L530.36 358.74L530.54 358.75L531.42 358.79L531.6 358.8L532.49 358.8L533.37 358.8L534.26 358.8L535.14 358.8L536.02 358.8L536.91 358.8L537.79 358.8L538.68 358.79L539.56 358.79L540.45 358.78L541.33 358.76L542.22 358.73L542.39 358.73L543.28 358.68L543.45 358.67L544.34 358.61L544.52 358.6L545.4 358.51L545.58 358.49L546.46 358.38L546.64 358.36L546.82 358.34L546.99 358.31L547.17 358.28L547.35 358.26L547.52 358.23L547.7 358.2L547.88 358.18L548.05 358.15L548.23 358.12L548.41 358.09L548.58 358.07L548.76 358.04L548.94 358.01L549.11 357.98L549.29 357.96L549.47 357.93L549.65 357.91L549.82 357.88L550 357.86L550.18 357.84L550.35 357.81L550.53 357.79L550.71 357.77L551.59 357.7L551.77 357.69L552.65 357.66L552.83 357.66L553.71 357.67L554.6 357.68L555.48 357.71L555.66 357.72L556.54 357.76L556.72 357.77L557.61 357.82L557.78 357.83L558.67 357.89L558.84 357.9L559.73 357.96L559.91 357.98L560.79 358.05L560.97 358.06L561.85 358.13L562.03 358.14L562.91 358.21L563.09 358.22L563.97 358.29L564.15 358.3L565.04 358.37L565.21 358.38L566.1 358.44L566.27 358.45L567.16 358.5L567.34 358.51L568.22 358.55L568.4 358.56L569.28 358.6L569.46 358.61L570.34 358.64L570.52 358.65L571.4 358.68L571.58 358.68L572.47 358.71L572.64 358.71L573.53 358.73L574.41 358.74L575.3 358.76L576.18 358.77L577.06 358.77L577.95 358.78L578.83 358.79L579.72 358.79L580.6 358.79L581.49 358.79L582.37 358.8L583.26 358.8L584.14 358.8L585.03 358.8L585.91 358.8L586.79 358.8L587.68 358.8L588.56 358.8L589.45 358.8L590.33 358.8L591.22 358.8L592.1 358.8L592.99 358.8L593.87 358.8L594.75 358.8L595.64 358.8L596.52 358.8L597.41 358.8L598.29 358.8L599.18 358.8L600.06 358.8L600.95 358.8L601.83 358.8L602.72 358.8L603.6 358.8" fill="none" stroke="#262626" stroke-width="0.75" stroke-linejoin="round"/>
<text x="421.9" y="208.3" font-family='"Liberation Serif", serif' font-size="16" font-weight="bold" fill="#111" textLength="23" lengthAdjust="spacingAndGlyphs">(G)</text>
<text x="447.5" y="206.8" font-family='"Liberation Serif", serif' font-size="13.4" fill="#111" stroke="#111" stroke-width="0.28" textLength="125" lengthAdjust="spacingAndGlyphs">HILID (6M Guanidine)</text>
<text x="479.1" y="241.2" font-family='"Liberation Sans", sans-serif' font-size="13.2" font-weight="bold" fill="#111" textLength="20.5" lengthAdjust="spacingAndGlyphs">IgG</text>
</g>
<g>
<path d="M626.6 216.4V359H803.4V216.4" fill="none" stroke="#484848" stroke-width="0.85"/>
<path d="M626.6 216.4H803.4" fill="none" stroke="#666" stroke-width="1" stroke-dasharray="0.9 0.9"/>
<path d="M626.6 359h1.3M803.4 359h-1.3M626.6 344.74h1.3M803.4 344.74h-1.3M626.6 330.48h1.3M803.4 330.48h-1.3M626.6 316.22h1.3M803.4 316.22h-1.3M626.6 301.96h1.3M803.4 301.96h-1.3M626.6 287.7h1.3M803.4 287.7h-1.3M626.6 273.44h1.3M803.4 273.44h-1.3M626.6 259.18h1.3M803.4 259.18h-1.3M626.6 244.92h1.3M803.4 244.92h-1.3M626.6 230.66h1.3M803.4 230.66h-1.3M626.6 216.4h1.3M803.4 216.4h-1.3M626.6 359v-1.3M635.44 359v-1.3M644.28 359v-1.3M653.12 359v-1.3M661.96 359v-1.3M670.8 359v-1.3M679.64 359v-1.3M688.48 359v-1.3M697.32 359v-1.3M706.16 359v-1.3M715 359v-1.3M723.84 359v-1.3M732.68 359v-1.3M741.52 359v-1.3M750.36 359v-1.3M759.2 359v-1.3M768.04 359v-1.3M776.88 359v-1.3M785.72 359v-1.3M794.56 359v-1.3M803.4 359v-1.3" stroke="#484848" stroke-width="0.7" fill="none"/>
<g font-family='"Liberation Sans", sans-serif' font-size="5.1" font-weight="bold" fill="#111">
<text x="624.9" y="361.1" text-anchor="end">0</text>
<text x="804.9" y="361.1">0</text>
<text x="624.9" y="346.84" text-anchor="end">5</text>
<text x="804.9" y="346.84">5</text>
<text x="624.9" y="332.58" text-anchor="end">10</text>
<text x="804.9" y="332.58">10</text>
<text x="624.9" y="318.32" text-anchor="end">15</text>
<text x="804.9" y="318.32">15</text>
<text x="624.9" y="304.06" text-anchor="end">20</text>
<text x="804.9" y="304.06">20</text>
<text x="624.9" y="289.8" text-anchor="end">25</text>
<text x="804.9" y="289.8">25</text>
<text x="624.9" y="275.54" text-anchor="end">30</text>
<text x="804.9" y="275.54">30</text>
<text x="624.9" y="261.28" text-anchor="end">35</text>
<text x="804.9" y="261.28">35</text>
<text x="624.9" y="247.02" text-anchor="end">40</text>
<text x="804.9" y="247.02">40</text>
<text x="624.9" y="232.76" text-anchor="end">45</text>
<text x="804.9" y="232.76">45</text>
<text x="624.9" y="218.5" text-anchor="end">50</text>
<text x="804.9" y="218.5">50</text>
<text x="626.6" y="365.8" text-anchor="middle">0</text>
<text x="635.44" y="365.8" text-anchor="middle">2</text>
<text x="644.28" y="365.8" text-anchor="middle">4</text>
<text x="653.12" y="365.8" text-anchor="middle">6</text>
<text x="661.96" y="365.8" text-anchor="middle">8</text>
<text x="670.8" y="365.8" text-anchor="middle">10</text>
<text x="679.64" y="365.8" text-anchor="middle">12</text>
<text x="688.48" y="365.8" text-anchor="middle">14</text>
<text x="697.32" y="365.8" text-anchor="middle">16</text>
<text x="706.16" y="365.8" text-anchor="middle">18</text>
<text x="715" y="365.8" text-anchor="middle">20</text>
<text x="723.84" y="365.8" text-anchor="middle">22</text>
<text x="732.68" y="365.8" text-anchor="middle">24</text>
<text x="741.52" y="365.8" text-anchor="middle">26</text>
<text x="750.36" y="365.8" text-anchor="middle">28</text>
<text x="759.2" y="365.8" text-anchor="middle">30</text>
<text x="768.04" y="365.8" text-anchor="middle">32</text>
<text x="776.88" y="365.8" text-anchor="middle">34</text>
<text x="785.72" y="365.8" text-anchor="middle">36</text>
<text x="794.56" y="365.8" text-anchor="middle">38</text>
<text x="803.4" y="365.8" text-anchor="middle">40</text>
</g>
<path d="M680.35 356.8L680.52 356.72L680.7 356.76M692.19 356.05L692.37 355.14L692.55 354.19L692.72 353.28L692.9 352.53L693.08 352.04L693.25 351.87L693.43 351.9L693.61 351.98L693.78 352.12L693.96 352.31L694.14 352.54L694.31 352.81L694.49 353.12L694.67 353.46L694.84 353.82L695.02 354.2L695.2 354.58L695.38 354.96L695.55 355.34L695.73 355.71L695.91 356.06L696.08 356.39L696.26 356.7M699.8 356.67L699.97 356.55L700.15 356.47L700.33 356.43L700.5 356.43M703.86 356.69L704.04 355.81L704.22 354.58L704.39 352.93L704.57 350.78L704.75 348.02L704.92 344.6L705.1 340.44L705.28 335.52L705.45 329.84L705.63 323.44L705.81 316.4L705.98 308.81L706.16 300.71L706.34 292.05L706.51 282.76L706.69 272.85L706.87 262.81L707.04 253.74L707.22 247.26L707.4 244.89L707.57 246.66L707.75 251.63L707.93 258.88L708.1 267.29L708.28 275.95L708.46 284.29L708.64 292.09L708.81 299.33L708.99 306.07L709.17 312.3L709.34 317.99L709.52 323.05L709.7 327.4L709.87 330.97L710.05 333.7L710.23 335.59L710.4 336.65L710.58 336.93L710.76 336.51L710.93 335.47L711.11 333.92L711.29 331.93L711.46 329.57L711.64 326.91L711.82 324.05L711.99 321.24L712.17 318.87L712.35 317.4L712.52 317.14L712.7 317.65L712.88 318.68L713.06 320.13L713.23 321.91L713.41 323.9L713.59 326L713.76 328.14L713.94 330.27L714.12 332.35L714.29 334.39L714.47 336.37L714.65 338.3L714.82 340.17L715 341.98L715.18 343.72L715.35 345.37L715.53 346.93L715.71 348.38L715.88 349.73L716.06 350.96L716.24 352.08L716.41 353.09L716.59 353.99L716.77 354.78L716.94 355.47L717.12 356.07L717.3 356.58" fill="none" stroke="#000" stroke-opacity="0.11" stroke-width="2.1" stroke-linejoin="round"/>
<path d="M626.6 359L626.78 359L627.66 359L628.54 359L629.43 359L630.31 359L631.2 359L632.08 359L632.96 359L633.85 359L634.73 359L635.62 359L636.5 359L637.38 359L638.27 359L639.15 359L640.04 359L640.92 359L641.8 359L642.69 359L643.57 359L644.46 359L645.34 359L646.22 359L647.11 359L647.99 359L648.88 359L649.76 359L650.64 359L651.53 359L652.41 359L653.3 359L654.18 359L655.06 359L655.95 359L656.83 359L657.72 359L658.6 359L659.48 359L660.37 359L661.25 359L662.14 359L663.02 359L663.9 359L664.79 359L665.67 359L666.56 359L667.44 359L668.32 359L669.21 359L670.09 359L670.98 358.99L671.86 358.97L672.04 358.95L672.92 358.81L673.1 358.76L673.28 358.71L673.45 358.65L673.63 358.58L673.81 358.52L673.98 358.45L674.16 358.38L674.34 358.31L674.51 358.26L674.69 358.21L674.87 358.17L675.04 358.15L675.22 358.14L676.1 358.31L676.28 358.38L676.46 358.45L676.63 358.52L676.81 358.58L676.99 358.65L677.16 358.71L677.34 358.76L677.52 358.81L677.7 358.85L677.87 358.88L678.05 358.91L678.23 358.93L679.11 358.75L679.29 358.59L679.46 358.36L679.64 358.06L679.82 357.71L679.99 357.34L680.17 357.02L680.35 356.8L680.52 356.72L680.7 356.76L680.88 356.89L681.05 357.09L681.23 357.34L681.41 357.61L681.58 357.89L681.76 358.14L681.94 358.36L682.12 358.54L682.29 358.68L682.47 358.79L682.65 358.86L682.82 358.91L683 358.94L683.18 358.95L684.06 358.92L684.24 358.91L685.12 358.79L685.3 358.75L685.47 358.72L685.65 358.69L685.83 358.65L686 358.62L686.18 358.59L686.36 358.55L686.54 358.52L686.71 358.5L686.89 358.47L687.07 358.45L687.95 358.44L688.83 358.55L689.01 358.59L689.19 358.62L689.36 358.65L689.54 358.69L689.72 358.72L689.89 358.75L690.07 358.78L690.25 358.81L690.42 358.83L691.31 358.58L691.49 358.35L691.66 357.99L691.84 357.5L692.02 356.85L692.19 356.05L692.37 355.14L692.55 354.19L692.72 353.28L692.9 352.53L693.08 352.04L693.25 351.87L693.43 351.9L693.61 351.98L693.78 352.12L693.96 352.31L694.14 352.54L694.31 352.81L694.49 353.12L694.67 353.46L694.84 353.82L695.02 354.2L695.2 354.58L695.38 354.96L695.55 355.34L695.73 355.71L695.91 356.06L696.08 356.39L696.26 356.7L696.44 356.99L696.61 357.25L696.79 357.47L696.97 357.66L697.14 357.82L697.32 357.95L697.5 358.04L697.67 358.09L697.85 358.11L698.73 357.69L698.91 357.52L699.09 357.35L699.26 357.16L699.44 356.98L699.62 356.81L699.8 356.67L699.97 356.55L700.15 356.47L700.33 356.43L700.5 356.43L701.39 356.89L701.56 357.05L701.74 357.22L701.92 357.39L702.09 357.56L702.27 357.72L702.45 357.86L702.62 357.98L702.8 358.06L702.98 358.1L703.15 358.07L703.33 357.95L703.51 357.7L703.68 357.3L703.86 356.69L704.04 355.81L704.22 354.58L704.39 352.93L704.57 350.78L704.75 348.02L704.92 344.6L705.1 340.44L705.28 335.52L705.45 329.84L705.63 323.44L705.81 316.4L705.98 308.81L706.16 300.71L706.34 292.05L706.51 282.76L706.69 272.85L706.87 262.81L707.04 253.74L707.22 247.26L707.4 244.89L707.57 246.66L707.75 251.63L707.93 258.88L708.1 267.29L708.28 275.95L708.46 284.29L708.64 292.09L708.81 299.33L708.99 306.07L709.17 312.3L709.34 317.99L709.52 323.05L709.7 327.4L709.87 330.97L710.05 333.7L710.23 335.59L710.4 336.65L710.58 336.93L710.76 336.51L710.93 335.47L711.11 333.92L711.29 331.93L711.46 329.57L711.64 326.91L711.82 324.05L711.99 321.24L712.17 318.87L712.35 317.4L712.52 317.14L712.7 317.65L712.88 318.68L713.06 320.13L713.23 321.91L713.41 323.9L713.59 326L713.76 328.14L713.94 330.27L714.12 332.35L714.29 334.39L714.47 336.37L714.65 338.3L714.82 340.17L715 341.98L715.18 343.72L715.35 345.37L715.53 346.93L715.71 348.38L715.88 349.73L716.06 350.96L716.24 352.08L716.41 353.09L716.59 353.99L716.77 354.78L716.94 355.47L717.12 356.07L717.3 356.58L717.48 357.02L717.65 357.39L717.83 357.71L718.01 357.96L718.18 358.18L718.36 358.35L718.54 358.49L718.71 358.6L718.89 358.69L719.07 358.77L719.24 358.82L719.42 358.87L719.6 358.9L719.77 358.92L719.95 358.94L720.83 358.99L721.01 358.99L721.9 359L722.78 359L723.66 359L724.55 359L725.43 359L726.32 359L727.2 359L728.08 359L728.97 359L729.85 359L730.74 359L731.62 359L732.5 359L733.39 359L734.27 359L735.16 359L736.04 359L736.92 359L737.81 359L738.69 358.99L739.58 358.92L739.75 358.89L739.93 358.85L740.11 358.8L740.28 358.74L740.46 358.66L740.64 358.57L740.81 358.47L740.99 358.36L741.17 358.23L741.34 358.1L741.52 357.96L741.7 357.82L741.87 357.69L742.05 357.57L742.23 357.47L742.4 357.38L742.58 357.32L742.76 357.29L742.93 357.29L743.82 357.53L744 357.61L744.17 357.71L744.35 357.81L744.53 357.91L744.7 358.01L744.88 358.12L745.06 358.22L745.23 358.31L745.41 358.4L745.59 358.49L745.76 358.56L745.94 358.63L746.12 358.69L746.29 358.74L746.47 358.79L746.65 358.83L746.82 358.86L747 358.89L747.18 358.91L747.35 358.93L748.24 358.98L748.42 358.99L749.3 359L750.18 359L751.07 359L751.95 359L752.84 359L753.72 359L754.6 359L755.49 359L756.37 359L757.26 359L758.14 359L759.02 359L759.91 359L760.79 359L761.68 359L762.56 359L763.44 359L764.33 359L765.21 359L766.1 359L766.98 359L767.86 359L768.75 359L769.63 359L770.52 359L771.4 359L772.28 359L773.17 359L774.05 359L774.94 359L775.82 359L776.7 359L777.59 359L778.47 359L779.36 359L780.24 359L781.12 359L782.01 359L782.89 359L783.78 359L784.66 359L785.54 359L786.43 359L787.31 359L788.2 359L789.08 359L789.96 359L790.85 359L791.73 359L792.62 359L793.5 359L794.38 359L795.27 359L796.15 359L797.04 359L797.92 359L798.8 359L799.69 359L800.57 359L801.46 359L802.34 359L803.22 359" fill="none" stroke="#262626" stroke-width="0.75" stroke-linejoin="round"/>
<text x="621.9" y="208.3" font-family='"Liberation Serif", serif' font-size="16" font-weight="bold" fill="#111" textLength="23.6" lengthAdjust="spacingAndGlyphs">(H)</text>
<text x="649.4" y="206.8" font-family='"Liberation Serif", serif' font-size="13.4" fill="#111" stroke="#111" stroke-width="0.28" textLength="115.2" lengthAdjust="spacingAndGlyphs">HILID (0.2M K<tspan font-size="8.5" dy="2.6">2</tspan><tspan dy="-2.6">SO</tspan><tspan font-size="8.5" dy="2.6">4</tspan><tspan dy="-2.6">)</tspan></text>
<text x="697.5" y="237" font-family='"Liberation Sans", sans-serif' font-size="13.2" font-weight="bold" fill="#111" textLength="19.9" lengthAdjust="spacingAndGlyphs">IgG</text>
</g>
<text transform="translate(10.1 85.6) rotate(-90)" font-family='"Liberation Sans", sans-serif' font-size="12.6" fill="#111" textLength="26.2" lengthAdjust="spacingAndGlyphs">mAU</text>
<text x="77.7" y="182.7" font-family='"Liberation Sans", sans-serif' font-size="11.8" fill="#111" textLength="53.4" lengthAdjust="spacingAndGlyphs">Time/min</text>
<g>
<path d="M214.5 584.45H597.3" stroke="#7a7a7a" stroke-width="0.9" stroke-dasharray="0.8 0.7" fill="none"/>
<path d="M214.5 523H597.3" stroke="#7a7a7a" stroke-width="0.9" stroke-dasharray="0.8 0.7" fill="none"/>
<path d="M214.5 461.55H597.3" stroke="#7a7a7a" stroke-width="0.9" stroke-dasharray="0.8 0.7" fill="none"/>
<path d="M214.5 400.1H597.3V645.9H214.5Z" fill="none" stroke="#9a9a9a" stroke-width="1"/>
<path d="M214.5 645.9h-4M214.5 584.45h-4M214.5 523h-4M214.5 461.55h-4M214.5 400.1h-4M214.5 645.9v4M310.2 645.9v4M405.9 645.9v4M501.6 645.9v4M597.3 645.9v4" stroke="#9a9a9a" stroke-width="1" fill="none"/>
<text x="206.4" y="649.8" text-anchor="end" font-family='"Liberation Sans", sans-serif' font-size="11" fill="#222">0</text>
<text x="206.4" y="588.35" text-anchor="end" font-family='"Liberation Sans", sans-serif' font-size="11" fill="#222">4</text>
<text x="206.4" y="526.9" text-anchor="end" font-family='"Liberation Sans", sans-serif' font-size="11" fill="#222">8</text>
<text x="206.4" y="465.45" text-anchor="end" font-family='"Liberation Sans", sans-serif' font-size="11" fill="#222">12</text>
<text x="206.4" y="404" text-anchor="end" font-family='"Liberation Sans", sans-serif' font-size="11" fill="#222">16</text>
<path d="M262.35 481.21V478.14M260.85 478.14h3" stroke="#555" stroke-width="0.75" fill="none"/>
<rect x="243.25" y="481.21" width="38.2" height="164.69" fill="#000"/>
<path d="M358.05 584.14V576.77M356.55 576.77h3" stroke="#555" stroke-width="0.75" fill="none"/>
<rect x="338.95" y="584.14" width="38.2" height="61.76" fill="#000"/>
<path d="M453.75 549.42V535.9M452.25 535.9h3" stroke="#555" stroke-width="0.75" fill="none"/>
<rect x="434.65" y="549.42" width="38.2" height="96.48" fill="#000"/>
<path d="M549.45 472.76V440.2M547.95 440.2h3" stroke="#555" stroke-width="0.75" fill="none"/>
<rect x="530.35" y="472.76" width="38.2" height="173.14" fill="#000"/>
<g font-family='"Liberation Sans", sans-serif' font-size="11.4" font-weight="bold" fill="#111">
<text x="229.3" y="663.5" textLength="66.5" lengthAdjust="spacingAndGlyphs">Norm Buffer</text>
<text x="344.7" y="663.5" textLength="26.9" lengthAdjust="spacingAndGlyphs">+DTT</text>
<text x="423.6" y="663.5" textLength="60.5" lengthAdjust="spacingAndGlyphs">+Guanidine</text>
<text x="531.4" y="664" textLength="40.4" lengthAdjust="spacingAndGlyphs">+K<tspan font-size="8" dy="2.6">2</tspan><tspan dy="-2.6">SO</tspan><tspan font-size="8" dy="2.6">4</tspan></text>
</g>
<text x="356.3" y="563.5" text-anchor="middle" font-family='"Liberation Sans", sans-serif' font-size="17" font-weight="bold" fill="#111">*</text>
<text x="452.0" y="526.2" text-anchor="middle" font-family='"Liberation Sans", sans-serif' font-size="17" font-weight="bold" fill="#111">*</text>
<text transform="translate(187.5 562.4) rotate(-90)" font-family='"Liberation Sans", sans-serif' font-size="13" font-weight="bold" fill="#111" textLength="79.6" lengthAdjust="spacingAndGlyphs">% Aggregates</text>
<text x="167.1" y="403.2" font-family='"Liberation Serif", serif' font-size="16" font-weight="bold" fill="#111" textLength="16.5" lengthAdjust="spacingAndGlyphs">(I)</text>
</g>
</svg>
</body></html>
